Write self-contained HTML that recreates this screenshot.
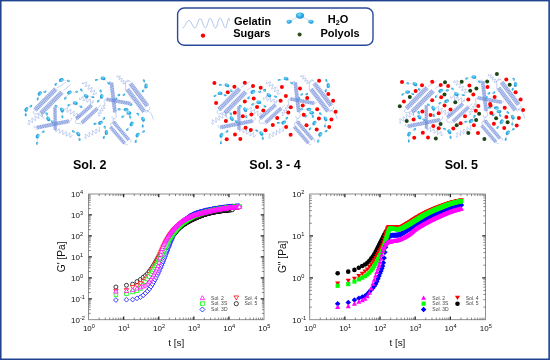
<!DOCTYPE html>
<html><head><meta charset="utf-8"><title>Gelatin rheology</title>
<style>html,body{margin:0;padding:0;background:#fff;overflow:hidden}body{width:550px;height:360px;position:relative}</style>
</head><body>
<svg width="550" height="360" viewBox="0 0 550 360" style="position:absolute;left:0;top:0">
<defs><radialGradient id="wg" cx="0.4" cy="0.35" r="0.7"><stop offset="0" stop-color="#86dcf7"/><stop offset="0.55" stop-color="#2cade5"/><stop offset="1" stop-color="#1b8fd3"/></radialGradient></defs>
<rect x="0" y="0" width="550" height="360" fill="#fff"/>
<rect x="177.6" y="8" width="195.4" height="37.2" rx="6.5" ry="6.5" fill="#fff" stroke="#2a4b9b" stroke-width="1.4"/>
<path d="M182.4 28 C184.71 28 186.69 20.4 189 20.4 C191.1 20.4 192.9 28 195 28 C196.75 28 198.25 18.6 200 18.6 C201.96 18.6 203.64 28 205.6 28 C207.14 28 208.46 18.2 210 18.2 C211.96 18.2 213.64 28 215.6 28 C217.14 28 218.46 18 220 18 C221.96 18 223.64 28 225.6 28 C226.72 28 227.68 18.2 228.8 18.2 C229.15 18.2 229.45 21 229.8 21" fill="none" stroke="#7f9ee0" stroke-width="0.6"/>
<circle cx="203" cy="35.6" r="2.2" fill="#ff0000"/>
<path d="M289.2 21.6 L300 15.6 L311 21.6" fill="none" stroke="#9fb6c8" stroke-width="0.5"/>
<ellipse cx="289.2" cy="21.7" rx="2.7" ry="2" fill="url(#wg)" transform="rotate(-8 289.2 21.7)"/>
<ellipse cx="311" cy="21.7" rx="2.7" ry="2" fill="url(#wg)" transform="rotate(8 311 21.7)"/>
<ellipse cx="300" cy="15.6" rx="4.1" ry="3.1" fill="url(#wg)" transform="rotate(0 300 15.6)"/>
<circle cx="299.6" cy="34.5" r="2" fill="#2b4f1b"/>
<g id="gel">
<line x1="35" y1="110" x2="55.8" y2="89" stroke="#6784d6" stroke-width="4.1" opacity="0.2"/>
<path d="M36.46 111.44 L34.16 107.94 L37.68 110.21 L35.38 106.7 L38.9 108.97 L36.6 105.47 L40.13 107.74 L37.83 104.23 L41.35 106.5 L39.05 103 L42.57 105.27 L40.27 101.76 L43.8 104.03 L41.5 100.53 L45.02 102.8 L42.72 99.29 L46.24 101.56 L43.94 98.06 L47.47 100.32 L45.17 96.82 L48.69 99.09 L46.39 95.59 L49.92 97.85 L47.61 94.35 L51.14 96.62 L48.84 93.12 L52.36 95.38 L50.06 91.88 L53.59 94.15 L51.28 90.65 L54.81 92.91 L52.51 89.41 L56.03 91.68 L53.73 88.18 L57.26 90.44" fill="none" stroke="#6784d6" stroke-width="0.5" stroke-linejoin="round"/>
<path d="M36.46 111.44 L57.26 90.44 M33.54 108.56 L54.34 87.56" fill="none" stroke="#6784d6" stroke-width="0.4" opacity="0.7"/>
<line x1="41.1" y1="113.2" x2="61.9" y2="92.2" stroke="#6784d6" stroke-width="4.1" opacity="0.2"/>
<path d="M42.56 114.64 L40.26 111.14 L43.78 113.41 L41.48 109.9 L45 112.17 L42.7 108.67 L46.23 110.94 L43.93 107.43 L47.45 109.7 L45.15 106.2 L48.67 108.47 L46.37 104.96 L49.9 107.23 L47.6 103.73 L51.12 106 L48.82 102.49 L52.34 104.76 L50.04 101.26 L53.57 103.52 L51.27 100.02 L54.79 102.29 L52.49 98.79 L56.02 101.05 L53.71 97.55 L57.24 99.82 L54.94 96.32 L58.46 98.58 L56.16 95.08 L59.69 97.35 L57.38 93.85 L60.91 96.11 L58.61 92.61 L62.13 94.88 L59.83 91.38 L63.36 93.64" fill="none" stroke="#6784d6" stroke-width="0.5" stroke-linejoin="round"/>
<path d="M42.56 114.64 L63.36 93.64 M39.64 111.76 L60.44 90.76" fill="none" stroke="#6784d6" stroke-width="0.4" opacity="0.7"/>
<line x1="76.25" y1="118.8" x2="91.7" y2="105.1" stroke="#6784d6" stroke-width="3.2" opacity="0.2"/>
<path d="M77.31 120 L75.83 117.03 L78.6 118.86 L77.12 115.89 L79.89 117.71 L78.41 114.75 L81.17 116.57 L79.69 113.61 L82.46 115.43 L80.98 112.47 L83.75 114.29 L82.27 111.32 L85.04 113.15 L83.56 110.18 L86.32 112.01 L84.84 109.04 L87.61 110.86 L86.13 107.9 L88.9 109.72 L87.42 106.76 L90.19 108.58 L88.71 105.62 L91.47 107.44 L89.99 104.47 L92.76 106.3" fill="none" stroke="#6784d6" stroke-width="0.5" stroke-linejoin="round"/>
<path d="M77.31 120 L92.76 106.3 M75.19 117.6 L90.64 103.9" fill="none" stroke="#6784d6" stroke-width="0.4" opacity="0.7"/>
<line x1="81.7" y1="123" x2="97.5" y2="108.4" stroke="#6784d6" stroke-width="3.2" opacity="0.2"/>
<path d="M82.79 124.18 L81.25 121.24 L84.05 123.01 L82.51 120.07 L85.31 121.84 L83.77 118.9 L86.58 120.67 L85.04 117.74 L87.84 119.5 L86.3 116.57 L89.11 118.34 L87.57 115.4 L90.37 117.17 L88.83 114.23 L91.63 116 L90.09 113.06 L92.9 114.83 L91.36 111.9 L94.16 113.66 L92.62 110.73 L95.43 112.5 L93.89 109.56 L96.69 111.33 L95.15 108.39 L97.95 110.16 L96.41 107.22" fill="none" stroke="#6784d6" stroke-width="0.5" stroke-linejoin="round"/>
<path d="M82.79 124.18 L98.59 109.58 M80.61 121.82 L96.41 107.22" fill="none" stroke="#6784d6" stroke-width="0.4" opacity="0.7"/>
<line x1="130.4" y1="83.6" x2="147.4" y2="106" stroke="#6784d6" stroke-width="3.9" opacity="0.2"/>
<path d="M128.85 84.78 L132.47 83.1 L129.88 86.14 L133.5 84.46 L130.91 87.49 L134.53 85.82 L131.94 88.85 L135.56 87.17 L132.97 90.21 L136.59 88.53 L134 91.57 L137.62 89.89 L135.03 92.92 L138.65 91.25 L136.06 94.28 L139.68 92.6 L137.09 95.64 L140.71 93.96 L138.12 97 L141.74 95.32 L139.15 98.35 L142.77 96.68 L140.18 99.71 L143.8 98.03 L141.21 101.07 L144.83 99.39 L142.24 102.43 L145.86 100.75 L143.27 103.78 L146.89 102.11 L144.3 105.14 L147.92 103.46 L145.33 106.5 L148.95 104.82" fill="none" stroke="#6784d6" stroke-width="0.5" stroke-linejoin="round"/>
<path d="M128.85 84.78 L145.85 107.18 M131.95 82.42 L148.95 104.82" fill="none" stroke="#6784d6" stroke-width="0.4" opacity="0.7"/>
<line x1="127.2" y1="89.3" x2="144.2" y2="111.7" stroke="#6784d6" stroke-width="3.9" opacity="0.2"/>
<path d="M125.65 90.48 L129.27 88.8 L126.68 91.84 L130.3 90.16 L127.71 93.19 L131.33 91.52 L128.74 94.55 L132.36 92.87 L129.77 95.91 L133.39 94.23 L130.8 97.27 L134.42 95.59 L131.83 98.62 L135.45 96.95 L132.86 99.98 L136.48 98.3 L133.89 101.34 L137.51 99.66 L134.92 102.7 L138.54 101.02 L135.95 104.05 L139.57 102.38 L136.98 105.41 L140.6 103.73 L138.01 106.77 L141.63 105.09 L139.04 108.13 L142.66 106.45 L140.07 109.48 L143.69 107.81 L141.1 110.84 L144.72 109.16 L142.13 112.2 L145.75 110.52" fill="none" stroke="#6784d6" stroke-width="0.5" stroke-linejoin="round"/>
<path d="M125.65 90.48 L142.65 112.88 M128.75 88.12 L145.75 110.52" fill="none" stroke="#6784d6" stroke-width="0.4" opacity="0.7"/>
<line x1="110.5" y1="127" x2="124.7" y2="143.5" stroke="#6784d6" stroke-width="3" opacity="0.2"/>
<path d="M109.36 127.98 L112.2 126.68 L110.5 129.3 L113.34 128 L111.64 130.62 L114.48 129.32 L112.77 131.94 L115.61 130.64 L113.91 133.26 L116.75 131.96 L115.04 134.58 L117.88 133.28 L116.18 135.9 L119.02 134.6 L117.32 137.22 L120.16 135.92 L118.45 138.54 L121.29 137.24 L119.59 139.86 L122.43 138.56 L120.72 141.18 L123.56 139.88 L121.86 142.5 L124.7 141.2 L123 143.82 L125.84 142.52" fill="none" stroke="#6784d6" stroke-width="0.5" stroke-linejoin="round"/>
<path d="M109.36 127.98 L123.56 144.48 M111.64 126.02 L125.84 142.52" fill="none" stroke="#6784d6" stroke-width="0.4" opacity="0.7"/>
<line x1="113.4" y1="122" x2="128.9" y2="140" stroke="#6784d6" stroke-width="3" opacity="0.2"/>
<path d="M112.26 122.98 L115.11 121.69 L113.41 124.31 L116.26 123.02 L114.56 125.65 L117.41 124.35 L115.71 126.98 L118.56 125.69 L116.86 128.31 L119.7 127.02 L118 129.65 L120.85 128.35 L119.15 130.98 L122 129.69 L120.3 132.31 L123.15 131.02 L121.45 133.65 L124.3 132.35 L122.6 134.98 L125.44 133.69 L123.74 136.31 L126.59 135.02 L124.89 137.65 L127.74 136.35 L126.04 138.98 L128.89 137.69 L127.19 140.31 L130.04 139.02" fill="none" stroke="#6784d6" stroke-width="0.5" stroke-linejoin="round"/>
<path d="M112.26 122.98 L127.76 140.98 M114.54 121.02 L130.04 139.02" fill="none" stroke="#6784d6" stroke-width="0.4" opacity="0.7"/>
<line x1="55" y1="106.7" x2="55.2" y2="130" stroke="#6784d6" stroke-width="2.7" opacity="0.2"/>
<path d="M53.65 106.71 L56.36 107.55 L53.66 108.44 L56.37 109.28 L53.68 110.16 L56.39 111 L53.69 111.89 L56.4 112.73 L53.71 113.62 L56.42 114.46 L53.72 115.34 L56.43 116.18 L53.74 117.07 L56.45 117.91 L53.75 118.79 L56.46 119.63 L53.77 120.52 L56.48 121.36 L53.78 122.24 L56.49 123.08 L53.8 123.97 L56.51 124.81 L53.81 125.7 L56.52 126.54 L53.83 127.42 L56.54 128.26 L53.84 129.15 L56.55 129.99" fill="none" stroke="#6784d6" stroke-width="0.5" stroke-linejoin="round"/>
<path d="M53.65 106.71 L53.85 130.01 M56.35 106.69 L56.55 129.99" fill="none" stroke="#6784d6" stroke-width="0.4" opacity="0.7"/>
<line x1="36.6" y1="127.7" x2="69" y2="121.2" stroke="#6784d6" stroke-width="3.3" opacity="0.2"/>
<path d="M36.92 129.32 L37.13 125.91 L38.63 128.98 L38.83 125.57 L40.34 128.63 L40.54 125.23 L42.04 128.29 L42.24 124.88 L43.75 127.95 L43.95 124.54 L45.45 127.61 L45.65 124.2 L47.16 127.27 L47.36 123.86 L48.86 126.92 L49.06 123.52 L50.57 126.58 L50.77 123.17 L52.27 126.24 L52.48 122.83 L53.98 125.9 L54.18 122.49 L55.68 125.55 L55.89 122.15 L57.39 125.21 L57.59 121.81 L59.09 124.87 L59.3 121.46 L60.8 124.53 L61 121.12 L62.5 124.19 L62.71 120.78 L64.21 123.84 L64.41 120.44 L65.91 123.5 L66.12 120.1 L67.62 123.16 L67.82 119.75 L69.32 122.82" fill="none" stroke="#6784d6" stroke-width="0.5" stroke-linejoin="round"/>
<path d="M36.92 129.32 L69.32 122.82 M36.28 126.08 L68.68 119.58" fill="none" stroke="#6784d6" stroke-width="0.4" opacity="0.7"/>
<line x1="111.4" y1="82.6" x2="115" y2="112.4" stroke="#6784d6" stroke-width="3.2" opacity="0.2"/>
<path d="M109.81 82.79 L113.09 83.26 L110.02 84.49 L113.3 84.96 L110.22 86.2 L113.5 86.67 L110.43 87.9 L113.71 88.37 L110.63 89.6 L113.91 90.07 L110.84 91.31 L114.12 91.77 L111.05 93.01 L114.33 93.48 L111.25 94.71 L114.53 95.18 L111.46 96.41 L114.74 96.88 L111.66 98.12 L114.94 98.59 L111.87 99.82 L115.15 100.29 L112.07 101.52 L115.35 101.99 L112.28 103.23 L115.56 103.69 L112.49 104.93 L115.77 105.4 L112.69 106.63 L115.97 107.1 L112.9 108.33 L116.18 108.8 L113.1 110.04 L116.38 110.51 L113.31 111.74 L116.59 112.21" fill="none" stroke="#6784d6" stroke-width="0.5" stroke-linejoin="round"/>
<path d="M109.81 82.79 L113.41 112.59 M112.99 82.41 L116.59 112.21" fill="none" stroke="#6784d6" stroke-width="0.4" opacity="0.7"/>
<line x1="106.4" y1="99.2" x2="130.4" y2="103.6" stroke="#6784d6" stroke-width="3.1" opacity="0.2"/>
<path d="M106.12 100.72 L107.54 97.83 L107.83 101.04 L109.25 98.15 L109.55 101.35 L110.97 98.46 L111.26 101.67 L112.68 98.78 L112.98 101.98 L114.39 99.09 L114.69 102.3 L116.11 99.4 L116.41 102.61 L117.82 99.72 L118.12 102.92 L119.54 100.03 L119.83 103.24 L121.25 100.35 L121.55 103.55 L122.97 100.66 L123.26 103.87 L124.68 100.98 L124.98 104.18 L126.39 101.29 L126.69 104.5 L128.11 101.6 L128.41 104.81 L129.82 101.92 L130.12 105.12" fill="none" stroke="#6784d6" stroke-width="0.5" stroke-linejoin="round"/>
<path d="M106.12 100.72 L130.12 105.12 M106.68 97.68 L130.68 102.08" fill="none" stroke="#6784d6" stroke-width="0.4" opacity="0.7"/>
<path d="M83.3 81.7 L82.76 82.71 L82.45 83.5 L82.53 83.89 L83.05 83.84 L83.92 83.44 L84.96 82.87 L85.93 82.37 L86.61 82.17 L86.86 82.38 L86.69 83.03 L86.21 83.98 L85.64 85.02 L85.22 85.92 L85.13 86.47 L85.48 86.59 L86.23 86.31 L87.24 85.78 L88.26 85.23 L89.07 84.89 L89.5 84.93 L89.49 85.42 L89.11 86.27 L88.55 87.3 L88.04 88.28 L87.8 88.99 L87.98 89.29 L88.58 89.15 L89.51 88.69 L90.56 88.12 L91.48 87.67 L92.07 87.55 L92.23 87.86 L91.98 88.58 L91.46 89.57 L90.9 90.6 L90.54 91.44 L90.54 91.91 L90.99 91.94 L91.81 91.59 L92.84 91.03 L93.83 90.51 L94.57 90.24 L94.91 90.37 L94.81 90.95 L94.37 91.85 L93.8 92.9 L93.33 93.84 L93.18 94.47 L93.45 94.67 L94.14 94.45 L95.11 93.95 L96.15 93.38 L97.01 92.99" fill="none" stroke="#7f98dd" stroke-width="0.5"/>
<path d="M79.6 97.6 L79.56 98.75 L79.63 99.59 L79.88 99.9 L80.32 99.63 L80.93 98.88 L81.61 97.9 L82.26 97.03 L82.77 96.55 L83.1 96.64 L83.23 97.3 L83.22 98.36 L83.17 99.55 L83.19 100.54 L83.36 101.07 L83.73 101.02 L84.29 100.42 L84.95 99.5 L85.62 98.55 L86.2 97.89 L86.6 97.75 L86.8 98.2 L86.83 99.14 L86.79 100.32 L86.77 101.42 L86.87 102.15 L87.17 102.32 L87.66 101.92 L88.29 101.09 L88.97 100.11 L89.6 99.31 L90.07 98.95 L90.34 99.18 L90.43 99.96 L90.41 101.08 L90.36 102.25 L90.41 103.15 L90.63 103.55 L91.05 103.35 L91.64 102.66 L92.31 101.7 L92.97 100.79 L93.51 100.24 L93.86 100.24" fill="none" stroke="#7f98dd" stroke-width="0.5"/>
<path d="M117.6 75.4 L117.03 76.35 L116.86 76.96 L117.27 77.05 L118.18 76.71 L119.25 76.23 L120.06 75.98 L120.33 76.2 L120.02 76.92 L119.42 77.91 L118.92 78.81 L118.88 79.29 L119.44 79.26 L120.43 78.85 L121.47 78.39 L122.16 78.24 L122.27 78.6 L121.86 79.42 L121.24 80.42 L120.83 81.23 L120.94 81.59 L121.64 81.44 L122.68 80.98 L123.67 80.57 L124.22 80.54 L124.18 81.03 L123.68 81.92 L123.08 82.91 L122.78 83.63 L123.04 83.85 L123.86 83.6 L124.92 83.12" fill="none" stroke="#7f98dd" stroke-width="0.5"/>
<path d="M27.4 123.4 L28.28 124.15 L28.98 124.62 L29.38 124.62 L29.43 124.08 L29.22 123.12 L28.88 121.98 L28.61 120.93 L28.57 120.25 L28.86 120.07 L29.48 120.41 L30.32 121.11 L31.22 121.89 L31.99 122.47 L32.49 122.63 L32.65 122.25 L32.51 121.4 L32.19 120.28 L31.88 119.18 L31.75 118.36 L31.94 118.02 L32.46 118.21 L33.25 118.82 L34.15 119.61 L34.98 120.28 L35.57 120.59 L35.84 120.38 L35.78 119.66 L35.5 118.59 L35.16 117.45 L34.96 116.52 L35.04 116.02 L35.46 116.05 L36.18 116.55 L37.07 117.31 L37.94 118.05 L38.62 118.5 L38.99 118.45 L39.03 117.88 L38.8 116.9 L38.46 115.75 L38.2 114.72 L38.18 114.07 L38.5 113.94 L39.14 114.31 L39.99 115.02 L40.89 115.8 L41.64 116.36 L42.12 116.47 L42.25 116.06 L42.09 115.18 L41.76 114.05 L41.46 112.96 L41.36 112.17" fill="none" stroke="#7f98dd" stroke-width="0.5"/>
<path d="M55.8 129.6 L55.71 130.75 L55.73 131.59 L55.97 131.91 L56.43 131.65 L57.08 130.93 L57.81 129.99 L58.5 129.15 L59.03 128.71 L59.35 128.83 L59.44 129.51 L59.37 130.58 L59.26 131.77 L59.24 132.75 L59.39 133.27 L59.78 133.2 L60.37 132.61 L61.09 131.71 L61.81 130.8 L62.41 130.2 L62.8 130.11 L62.96 130.61 L62.94 131.58 L62.83 132.77 L62.76 133.85 L62.85 134.55 L63.15 134.69 L63.68 134.26 L64.37 133.43 L65.1 132.49 L65.75 131.75 L66.22 131.47 L66.47 131.78 L66.5 132.6 L66.41 133.75 L66.31 134.9 L66.33 135.76 L66.56 136.1 L67.01 135.86 L67.66 135.14 L68.39 134.21 L69.08 133.36 L69.62 132.9 L69.94 133 L70.04 133.67 L69.98 134.73 L69.87 135.92 L69.84 136.91 L69.99 137.45 L70.37 137.4 L70.95 136.83 L71.67 135.93 L72.39 135.02" fill="none" stroke="#7f98dd" stroke-width="0.5"/>
<path d="M64 108 L63.74 109.14 L63.66 109.98 L63.85 110.32 L64.37 110.1 L65.13 109.45 L65.99 108.61 L66.79 107.89 L67.37 107.56 L67.63 107.78 L67.6 108.52 L67.37 109.62 L67.09 110.78 L66.96 111.71 L67.09 112.17 L67.53 112.07 L68.25 111.49 L69.11 110.67 L69.93 109.9 L70.57 109.47 L70.91 109.56 L70.93 110.2 L70.73 111.24 L70.45 112.41 L70.27 113.42 L70.34 113.99 L70.71 114.01 L71.38 113.53 L72.22 112.73 L73.07 111.92 L73.76 111.4 L74.16 111.37 L74.25 111.89 L74.09 112.86 L73.82 114.04 L73.6 115.1 L73.6 115.79 L73.91 115.93 L74.52 115.54 L75.33 114.79 L76.2 113.96 L76.93 113.35 L77.41 113.2 L77.56 113.61 L77.45 114.5 L77.18 115.66 L76.94 116.77 L76.88 117.56 L77.12 117.83 L77.67 117.54 L78.45 116.85 L79.32 116.01 L80.1 115.33 L80.63 115.06 L80.86 115.35 L80.8 116.15" fill="none" stroke="#7f98dd" stroke-width="0.5"/>
<path d="M98 115.6 L98.99 115.87 L99.6 115.88 L99.63 115.49 L99.15 114.76 L98.49 113.9 L98.04 113.19 L98.11 112.83 L98.76 112.86 L99.76 113.14 L100.74 113.4 L101.31 113.38 L101.3 112.97 L100.8 112.22 L100.13 111.36 L99.71 110.67 L99.82 110.34 L100.5 110.4 L101.52 110.68 L102.48 110.93 L103.02 110.89 L102.96 110.44 L102.44 109.68 L101.78 108.83 L101.39 108.15 L101.54 107.85 L102.25 107.93 L103.28 108.22 L104.22 108.46 L104.72 108.39 L104.63 107.92 L104.08 107.14 L103.43 106.29 L103.07 105.64 L103.26 105.37 L104.01 105.47 L105.04 105.76" fill="none" stroke="#7f98dd" stroke-width="0.5"/>
<path d="M84.2 137.2 L85 138.03 L85.65 138.57 L86.05 138.6 L86.16 138.08 L86.04 137.12 L85.82 135.95 L85.64 134.88 L85.67 134.18 L85.96 134.03 L86.53 134.41 L87.3 135.17 L88.12 136.03 L88.84 136.7 L89.33 136.92 L89.53 136.59 L89.48 135.75 L89.28 134.62 L89.07 133.48 L89.01 132.63 L89.21 132.28 L89.69 132.49 L90.41 133.15 L91.22 134.01 L91.99 134.78 L92.57 135.17 L92.88 135.03 L92.9 134.35 L92.74 133.29 L92.51 132.12 L92.39 131.14 L92.49 130.61 L92.88 130.63 L93.52 131.15 L94.32 131.98 L95.13 132.81 L95.78 133.36 L96.19 133.41 L96.3 132.91 L96.19 131.95 L95.97 130.78 L95.79 129.7 L95.81 129 L96.1 128.83 L96.66 129.19 L97.42 129.95 L98.24 130.81 L98.97 131.49 L99.46 131.73 L99.68 131.41 L99.63 130.58 L99.43 129.45 L99.22 128.31 L99.16 127.45 L99.35 127.09 L99.82 127.28" fill="none" stroke="#7f98dd" stroke-width="0.5"/>
<path d="M56.9 88 C60 85.5 63 85 66 82 M63.4 90.4 C66 88.5 68.5 87 70.5 84.5" fill="none" stroke="#7f98dd" stroke-width="0.45"/>
<path d="M34.6 110.2 C32.5 112 33 114.5 36 114 C39 113.5 40 112 41.2 113.2 M41.2 113.2 C43 116 42 118 44.5 119" fill="none" stroke="#7f98dd" stroke-width="0.45"/>
<path d="M42.4 113.8 C44 111.5 46.5 112.5 47 115" fill="none" stroke="#7f98dd" stroke-width="0.45"/>
<path d="M76.6 119.6 C74.5 121.5 75.5 124 78 123.6 C80 123.2 80.6 123.4 81.4 124.6 M76.6 119.6 C75 117 76.5 115 80.2 117.2" fill="none" stroke="#7f98dd" stroke-width="0.45"/>
<path d="M92.2 103.6 C93.6 102 93.4 101 93.2 102.2 M97.9 108.2 C99 107 100 106.5 101 105" fill="none" stroke="#7f98dd" stroke-width="0.45"/>
<path d="M130 81.6 C128.5 79.5 126.5 80 125.6 82 C125 84 126 86 125.4 90.2 M124.6 83.4 C127 82 129 80 130 81.6" fill="none" stroke="#7f98dd" stroke-width="0.45"/>
<path d="M149.4 107 C150.6 109 149 111 146.6 110.4 M146.6 110.4 C150.5 111.5 152.5 115 153.4 119.6 M145 111.6 C146 112.6 147.4 112.2 147.6 111" fill="none" stroke="#7f98dd" stroke-width="0.45"/>
<path d="M111.6 127 C110 124.6 111 122 113.6 121.8 C115.4 121.6 116 121.6 116.6 122.6" fill="none" stroke="#7f98dd" stroke-width="0.45"/>
<path d="M115 112.4 C116.6 114.4 117 117.4 115 118.4 C113 119.4 111.4 118 112.2 116.2 M113.6 121.8 C112.6 120.4 113 119 115 118.4" fill="none" stroke="#7f98dd" stroke-width="0.45"/>
<path d="M124.6 143.6 C125.6 145 127 145.4 127.6 144.6 M130.6 139.4 C131.6 140.8 131.4 142 130.4 142.4" fill="none" stroke="#7f98dd" stroke-width="0.45"/>
<path d="M55.5 130.6 L55.8 129.6 M69 121.4 C71 121 72 119 71 117.6 M36.6 127.4 C34.6 128 33.6 127 34.4 125.4" fill="none" stroke="#7f98dd" stroke-width="0.45"/>
<path d="M106.4 99.2 C104.4 99 103.6 101 104.8 102.6 L104.8 105.6 M130.4 103.6 C132 104 132.6 103 132 102" fill="none" stroke="#7f98dd" stroke-width="0.45"/>
<path d="M111.4 82.6 C110.6 80.6 108.6 81.6 108.8 83.2" fill="none" stroke="#7f98dd" stroke-width="0.45"/>
</g>
<line x1="61.3" y1="80" x2="68.3" y2="80.8" stroke="#c9c6ae" stroke-width="0.4"/>
<line x1="61.3" y1="80" x2="55.8" y2="84.4" stroke="#c9c6ae" stroke-width="0.4"/>
<ellipse cx="68.3" cy="80.8" rx="1.5" ry="1.05" fill="url(#wg)" transform="rotate(6.52 68.3 80.8)"/>
<ellipse cx="55.8" cy="84.4" rx="1.5" ry="1.05" fill="url(#wg)" transform="rotate(141.34 55.8 84.4)"/>
<ellipse cx="61.3" cy="80" rx="2.5" ry="1.75" fill="url(#wg)" transform="rotate(163.93 61.3 80)"/>
<line x1="69.4" y1="92.5" x2="76.7" y2="91.7" stroke="#c9c6ae" stroke-width="0.4"/>
<line x1="69.4" y1="92.5" x2="65.3" y2="98.3" stroke="#c9c6ae" stroke-width="0.4"/>
<ellipse cx="76.7" cy="91.7" rx="1.5" ry="1.05" fill="url(#wg)" transform="rotate(-6.25 76.7 91.7)"/>
<ellipse cx="65.3" cy="98.3" rx="1.5" ry="1.05" fill="url(#wg)" transform="rotate(125.26 65.3 98.3)"/>
<ellipse cx="69.4" cy="92.5" rx="2.5" ry="1.75" fill="url(#wg)" transform="rotate(149.93 69.4 92.5)"/>
<line x1="39.8" y1="93.5" x2="45" y2="91.7" stroke="#c9c6ae" stroke-width="0.4"/>
<line x1="39.8" y1="93.5" x2="37.8" y2="98.9" stroke="#c9c6ae" stroke-width="0.4"/>
<ellipse cx="45" cy="91.7" rx="1.5" ry="1.05" fill="url(#wg)" transform="rotate(-19.09 45 91.7)"/>
<ellipse cx="37.8" cy="98.9" rx="1.5" ry="1.05" fill="url(#wg)" transform="rotate(110.32 37.8 98.9)"/>
<ellipse cx="39.8" cy="93.5" rx="2.5" ry="1.75" fill="url(#wg)" transform="rotate(135 39.8 93.5)"/>
<line x1="75.3" y1="103.1" x2="68.9" y2="105.3" stroke="#c9c6ae" stroke-width="0.4"/>
<line x1="75.3" y1="103.1" x2="81" y2="106.7" stroke="#c9c6ae" stroke-width="0.4"/>
<ellipse cx="68.9" cy="105.3" rx="1.5" ry="1.05" fill="url(#wg)" transform="rotate(161.03 68.9 105.3)"/>
<ellipse cx="81" cy="106.7" rx="1.5" ry="1.05" fill="url(#wg)" transform="rotate(32.28 81 106.7)"/>
<ellipse cx="75.3" cy="103.1" rx="2.5" ry="1.75" fill="url(#wg)" transform="rotate(6.6 75.3 103.1)"/>
<line x1="26.4" y1="109.4" x2="30.9" y2="106.1" stroke="#c9c6ae" stroke-width="0.4"/>
<line x1="26.4" y1="109.4" x2="25.8" y2="114.8" stroke="#c9c6ae" stroke-width="0.4"/>
<ellipse cx="30.9" cy="106.1" rx="1.5" ry="1.05" fill="url(#wg)" transform="rotate(-36.25 30.9 106.1)"/>
<ellipse cx="25.8" cy="114.8" rx="1.5" ry="1.05" fill="url(#wg)" transform="rotate(96.34 25.8 114.8)"/>
<ellipse cx="26.4" cy="109.4" rx="2.5" ry="1.75" fill="url(#wg)" transform="rotate(120.38 26.4 109.4)"/>
<line x1="62" y1="110" x2="56.1" y2="106" stroke="#c9c6ae" stroke-width="0.4"/>
<line x1="62" y1="110" x2="62.4" y2="116.7" stroke="#c9c6ae" stroke-width="0.4"/>
<ellipse cx="56.1" cy="106" rx="1.5" ry="1.05" fill="url(#wg)" transform="rotate(-145.86 56.1 106)"/>
<ellipse cx="62.4" cy="116.7" rx="1.5" ry="1.05" fill="url(#wg)" transform="rotate(86.58 62.4 116.7)"/>
<ellipse cx="62" cy="110" rx="2.5" ry="1.75" fill="url(#wg)" transform="rotate(59.51 62 110)"/>
<line x1="48.3" y1="118.9" x2="46.7" y2="113.9" stroke="#c9c6ae" stroke-width="0.4"/>
<line x1="48.3" y1="118.9" x2="52.2" y2="121.7" stroke="#c9c6ae" stroke-width="0.4"/>
<ellipse cx="46.7" cy="113.9" rx="1.5" ry="1.05" fill="url(#wg)" transform="rotate(-107.74 46.7 113.9)"/>
<ellipse cx="52.2" cy="121.7" rx="1.5" ry="1.05" fill="url(#wg)" transform="rotate(35.68 52.2 121.7)"/>
<ellipse cx="48.3" cy="118.9" rx="2.5" ry="1.75" fill="url(#wg)" transform="rotate(54.81 48.3 118.9)"/>
<line x1="37.6" y1="136.1" x2="43.3" y2="131.7" stroke="#c9c6ae" stroke-width="0.4"/>
<line x1="37.6" y1="136.1" x2="37.2" y2="143.3" stroke="#c9c6ae" stroke-width="0.4"/>
<ellipse cx="43.3" cy="131.7" rx="1.5" ry="1.05" fill="url(#wg)" transform="rotate(-37.67 43.3 131.7)"/>
<ellipse cx="37.2" cy="143.3" rx="1.5" ry="1.05" fill="url(#wg)" transform="rotate(93.18 37.2 143.3)"/>
<ellipse cx="37.6" cy="136.1" rx="2.5" ry="1.75" fill="url(#wg)" transform="rotate(117.74 37.6 136.1)"/>
<line x1="78.3" y1="134" x2="73.3" y2="131.4" stroke="#c9c6ae" stroke-width="0.4"/>
<line x1="78.3" y1="134" x2="79.6" y2="139.4" stroke="#c9c6ae" stroke-width="0.4"/>
<ellipse cx="73.3" cy="131.4" rx="1.5" ry="1.05" fill="url(#wg)" transform="rotate(-152.53 73.3 131.4)"/>
<ellipse cx="79.6" cy="139.4" rx="1.5" ry="1.05" fill="url(#wg)" transform="rotate(76.46 79.6 139.4)"/>
<ellipse cx="78.3" cy="134" rx="2.5" ry="1.75" fill="url(#wg)" transform="rotate(51.78 78.3 134)"/>
<line x1="103.1" y1="78.3" x2="96.4" y2="80" stroke="#c9c6ae" stroke-width="0.4"/>
<line x1="103.1" y1="78.3" x2="108.7" y2="83.1" stroke="#c9c6ae" stroke-width="0.4"/>
<ellipse cx="96.4" cy="80" rx="1.5" ry="1.05" fill="url(#wg)" transform="rotate(165.76 96.4 80)"/>
<ellipse cx="108.7" cy="83.1" rx="1.5" ry="1.05" fill="url(#wg)" transform="rotate(40.6 108.7 83.1)"/>
<ellipse cx="103.1" cy="78.3" rx="2.5" ry="1.75" fill="url(#wg)" transform="rotate(14.15 103.1 78.3)"/>
<line x1="86.1" y1="96.1" x2="81.3" y2="90" stroke="#c9c6ae" stroke-width="0.4"/>
<line x1="86.1" y1="96.1" x2="92.8" y2="97" stroke="#c9c6ae" stroke-width="0.4"/>
<ellipse cx="81.3" cy="90" rx="1.5" ry="1.05" fill="url(#wg)" transform="rotate(-128.2 81.3 90)"/>
<ellipse cx="92.8" cy="97" rx="1.5" ry="1.05" fill="url(#wg)" transform="rotate(7.65 92.8 97)"/>
<ellipse cx="86.1" cy="96.1" rx="2.5" ry="1.75" fill="url(#wg)" transform="rotate(31.33 86.1 96.1)"/>
<line x1="101.7" y1="96.4" x2="100.6" y2="91.1" stroke="#c9c6ae" stroke-width="0.4"/>
<line x1="101.7" y1="96.4" x2="98.3" y2="101.1" stroke="#c9c6ae" stroke-width="0.4"/>
<ellipse cx="100.6" cy="91.1" rx="1.5" ry="1.05" fill="url(#wg)" transform="rotate(-101.73 100.6 91.1)"/>
<ellipse cx="98.3" cy="101.1" rx="1.5" ry="1.05" fill="url(#wg)" transform="rotate(125.88 98.3 101.1)"/>
<ellipse cx="101.7" cy="96.4" rx="2.5" ry="1.75" fill="url(#wg)" transform="rotate(102.95 101.7 96.4)"/>
<ellipse cx="118.9" cy="95" rx="1.5" ry="1.05" fill="url(#wg)" transform="rotate(-30 118.9 95)"/>
<ellipse cx="123.9" cy="94.7" rx="1.5" ry="1.05" fill="url(#wg)" transform="rotate(-30 123.9 94.7)"/>
<ellipse cx="116" cy="98.7" rx="1.5" ry="1.05" fill="url(#wg)" transform="rotate(-30 116 98.7)"/>
<ellipse cx="131" cy="104.7" rx="1.5" ry="1.05" fill="url(#wg)" transform="rotate(-30 131 104.7)"/>
<line x1="146.1" y1="86.1" x2="143.9" y2="80.8" stroke="#c9c6ae" stroke-width="0.4"/>
<line x1="146.1" y1="86.1" x2="143.1" y2="90.9" stroke="#c9c6ae" stroke-width="0.4"/>
<ellipse cx="143.9" cy="80.8" rx="1.5" ry="1.05" fill="url(#wg)" transform="rotate(-112.54 143.9 80.8)"/>
<ellipse cx="143.1" cy="90.9" rx="1.5" ry="1.05" fill="url(#wg)" transform="rotate(122.01 143.1 90.9)"/>
<ellipse cx="146.1" cy="86.1" rx="2.5" ry="1.75" fill="url(#wg)" transform="rotate(94.53 146.1 86.1)"/>
<line x1="100.5" y1="122.8" x2="103.9" y2="118.3" stroke="#c9c6ae" stroke-width="0.4"/>
<line x1="100.5" y1="122.8" x2="95" y2="123.9" stroke="#c9c6ae" stroke-width="0.4"/>
<ellipse cx="103.9" cy="118.3" rx="1.5" ry="1.05" fill="url(#wg)" transform="rotate(-52.93 103.9 118.3)"/>
<ellipse cx="95" cy="123.9" rx="1.5" ry="1.05" fill="url(#wg)" transform="rotate(168.69 95 123.9)"/>
<ellipse cx="100.5" cy="122.8" rx="2.5" ry="1.75" fill="url(#wg)" transform="rotate(147.82 100.5 122.8)"/>
<line x1="106.4" y1="132.5" x2="104.7" y2="127.2" stroke="#c9c6ae" stroke-width="0.4"/>
<line x1="106.4" y1="132.5" x2="103.9" y2="137.4" stroke="#c9c6ae" stroke-width="0.4"/>
<ellipse cx="104.7" cy="127.2" rx="1.5" ry="1.05" fill="url(#wg)" transform="rotate(-107.78 104.7 127.2)"/>
<ellipse cx="103.9" cy="137.4" rx="1.5" ry="1.05" fill="url(#wg)" transform="rotate(117.03 103.9 137.4)"/>
<ellipse cx="106.4" cy="132.5" rx="2.5" ry="1.75" fill="url(#wg)" transform="rotate(94.48 106.4 132.5)"/>
<line x1="126.1" y1="109.7" x2="119.1" y2="109.4" stroke="#c9c6ae" stroke-width="0.4"/>
<ellipse cx="119.1" cy="109.4" rx="1.5" ry="1.05" fill="url(#wg)" transform="rotate(-177.55 119.1 109.4)"/>
<ellipse cx="126.1" cy="109.7" rx="2.5" ry="1.75" fill="url(#wg)" transform="rotate(-177.55 126.1 109.7)"/>
<line x1="128.9" y1="113.1" x2="122.8" y2="116.7" stroke="#c9c6ae" stroke-width="0.4"/>
<line x1="128.9" y1="113.1" x2="130.2" y2="117" stroke="#c9c6ae" stroke-width="0.4"/>
<ellipse cx="122.8" cy="116.7" rx="1.5" ry="1.05" fill="url(#wg)" transform="rotate(149.45 122.8 116.7)"/>
<ellipse cx="130.2" cy="117" rx="1.5" ry="1.05" fill="url(#wg)" transform="rotate(71.57 130.2 117)"/>
<ellipse cx="128.9" cy="113.1" rx="2.5" ry="1.75" fill="url(#wg)" transform="rotate(2.32 128.9 113.1)"/>
<line x1="131.7" y1="123.9" x2="127.4" y2="129.6" stroke="#c9c6ae" stroke-width="0.4"/>
<ellipse cx="127.4" cy="129.6" rx="1.5" ry="1.05" fill="url(#wg)" transform="rotate(127.03 127.4 129.6)"/>
<ellipse cx="131.7" cy="123.9" rx="2.5" ry="1.75" fill="url(#wg)" transform="rotate(127.03 131.7 123.9)"/>
<line x1="143.1" y1="119.2" x2="137.8" y2="114.1" stroke="#c9c6ae" stroke-width="0.4"/>
<line x1="143.1" y1="119.2" x2="142.8" y2="126.1" stroke="#c9c6ae" stroke-width="0.4"/>
<ellipse cx="137.8" cy="114.1" rx="1.5" ry="1.05" fill="url(#wg)" transform="rotate(-136.1 137.8 114.1)"/>
<ellipse cx="142.8" cy="126.1" rx="1.5" ry="1.05" fill="url(#wg)" transform="rotate(92.49 142.8 126.1)"/>
<ellipse cx="143.1" cy="119.2" rx="2.5" ry="1.75" fill="url(#wg)" transform="rotate(67.38 143.1 119.2)"/>
<line x1="137.6" y1="135" x2="143.6" y2="131.4" stroke="#c9c6ae" stroke-width="0.4"/>
<line x1="137.6" y1="135" x2="135.8" y2="141.4" stroke="#c9c6ae" stroke-width="0.4"/>
<ellipse cx="143.6" cy="131.4" rx="1.5" ry="1.05" fill="url(#wg)" transform="rotate(-30.96 143.6 131.4)"/>
<ellipse cx="135.8" cy="141.4" rx="1.5" ry="1.05" fill="url(#wg)" transform="rotate(105.71 135.8 141.4)"/>
<ellipse cx="137.6" cy="135" rx="2.5" ry="1.75" fill="url(#wg)" transform="rotate(127.95 137.6 135)"/>
<use href="#gel" x="183.8" y="-0.3"/>
<line x1="227" y1="85.2" x2="220.3" y2="85" stroke="#c9c6ae" stroke-width="0.4"/>
<line x1="227" y1="85.2" x2="231.4" y2="90.8" stroke="#c9c6ae" stroke-width="0.4"/>
<ellipse cx="220.3" cy="85" rx="1.5" ry="1.05" fill="url(#wg)" transform="rotate(-178.29 220.3 85)"/>
<ellipse cx="231.4" cy="90.8" rx="1.5" ry="1.05" fill="url(#wg)" transform="rotate(51.84 231.4 90.8)"/>
<ellipse cx="227" cy="85.2" rx="2.5" ry="1.75" fill="url(#wg)" transform="rotate(27.59 227 85.2)"/>
<line x1="220" y1="93.3" x2="215" y2="95.9" stroke="#c9c6ae" stroke-width="0.4"/>
<line x1="220" y1="93.3" x2="225.2" y2="95.2" stroke="#c9c6ae" stroke-width="0.4"/>
<ellipse cx="215" cy="95.9" rx="1.5" ry="1.05" fill="url(#wg)" transform="rotate(152.53 215 95.9)"/>
<ellipse cx="225.2" cy="95.2" rx="1.5" ry="1.05" fill="url(#wg)" transform="rotate(20.07 225.2 95.2)"/>
<ellipse cx="220" cy="93.3" rx="2.5" ry="1.75" fill="url(#wg)" transform="rotate(-3.93 220 93.3)"/>
<line x1="252.8" y1="91.9" x2="259.7" y2="91.7" stroke="#c9c6ae" stroke-width="0.4"/>
<line x1="252.8" y1="91.9" x2="248.6" y2="97.8" stroke="#c9c6ae" stroke-width="0.4"/>
<ellipse cx="259.7" cy="91.7" rx="1.5" ry="1.05" fill="url(#wg)" transform="rotate(-1.66 259.7 91.7)"/>
<ellipse cx="248.6" cy="97.8" rx="1.5" ry="1.05" fill="url(#wg)" transform="rotate(125.45 248.6 97.8)"/>
<ellipse cx="252.8" cy="91.9" rx="2.5" ry="1.75" fill="url(#wg)" transform="rotate(151.21 252.8 91.9)"/>
<line x1="258.8" y1="102.3" x2="252.8" y2="104.4" stroke="#c9c6ae" stroke-width="0.4"/>
<line x1="258.8" y1="102.3" x2="265" y2="106.3" stroke="#c9c6ae" stroke-width="0.4"/>
<ellipse cx="252.8" cy="104.4" rx="1.5" ry="1.05" fill="url(#wg)" transform="rotate(160.71 252.8 104.4)"/>
<ellipse cx="265" cy="106.3" rx="1.5" ry="1.05" fill="url(#wg)" transform="rotate(32.83 265 106.3)"/>
<ellipse cx="258.8" cy="102.3" rx="2.5" ry="1.75" fill="url(#wg)" transform="rotate(8.85 258.8 102.3)"/>
<ellipse cx="264.6" cy="90" rx="1.5" ry="1.05" fill="url(#wg)" transform="rotate(-30 264.6 90)"/>
<line x1="286.1" y1="78.6" x2="279.2" y2="80" stroke="#c9c6ae" stroke-width="0.4"/>
<line x1="286.1" y1="78.6" x2="291.7" y2="83" stroke="#c9c6ae" stroke-width="0.4"/>
<ellipse cx="279.2" cy="80" rx="1.5" ry="1.05" fill="url(#wg)" transform="rotate(168.53 279.2 80)"/>
<ellipse cx="291.7" cy="83" rx="1.5" ry="1.05" fill="url(#wg)" transform="rotate(38.16 291.7 83)"/>
<ellipse cx="286.1" cy="78.6" rx="2.5" ry="1.75" fill="url(#wg)" transform="rotate(13.5 286.1 78.6)"/>
<line x1="268.9" y1="95.2" x2="264.8" y2="90.3" stroke="#c9c6ae" stroke-width="0.4"/>
<line x1="268.9" y1="95.2" x2="275.6" y2="96.7" stroke="#c9c6ae" stroke-width="0.4"/>
<ellipse cx="264.8" cy="90.3" rx="1.5" ry="1.05" fill="url(#wg)" transform="rotate(-129.92 264.8 90.3)"/>
<ellipse cx="275.6" cy="96.7" rx="1.5" ry="1.05" fill="url(#wg)" transform="rotate(12.62 275.6 96.7)"/>
<ellipse cx="268.9" cy="95.2" rx="2.5" ry="1.75" fill="url(#wg)" transform="rotate(30.65 268.9 95.2)"/>
<ellipse cx="301.7" cy="94.4" rx="1.5" ry="1.05" fill="url(#wg)" transform="rotate(-30 301.7 94.4)"/>
<ellipse cx="306.7" cy="94.1" rx="1.5" ry="1.05" fill="url(#wg)" transform="rotate(-30 306.7 94.1)"/>
<ellipse cx="298.9" cy="98.3" rx="1.5" ry="1.05" fill="url(#wg)" transform="rotate(-30 298.9 98.3)"/>
<line x1="328.3" y1="85.6" x2="326.3" y2="80.6" stroke="#c9c6ae" stroke-width="0.4"/>
<line x1="328.3" y1="85.6" x2="325.8" y2="90.8" stroke="#c9c6ae" stroke-width="0.4"/>
<ellipse cx="326.3" cy="80.6" rx="1.5" ry="1.05" fill="url(#wg)" transform="rotate(-111.8 326.3 80.6)"/>
<ellipse cx="325.8" cy="90.8" rx="1.5" ry="1.05" fill="url(#wg)" transform="rotate(115.68 325.8 90.8)"/>
<ellipse cx="328.3" cy="85.6" rx="2.5" ry="1.75" fill="url(#wg)" transform="rotate(92.81 328.3 85.6)"/>
<line x1="245.2" y1="109.7" x2="240.3" y2="106.1" stroke="#c9c6ae" stroke-width="0.4"/>
<line x1="245.2" y1="109.7" x2="246.3" y2="116.7" stroke="#c9c6ae" stroke-width="0.4"/>
<ellipse cx="240.3" cy="106.1" rx="1.5" ry="1.05" fill="url(#wg)" transform="rotate(-143.7 240.3 106.1)"/>
<ellipse cx="246.3" cy="116.7" rx="1.5" ry="1.05" fill="url(#wg)" transform="rotate(81.07 246.3 116.7)"/>
<ellipse cx="245.2" cy="109.7" rx="2.5" ry="1.75" fill="url(#wg)" transform="rotate(60.49 245.2 109.7)"/>
<line x1="231.7" y1="118.6" x2="230.8" y2="113.9" stroke="#c9c6ae" stroke-width="0.4"/>
<line x1="231.7" y1="118.6" x2="236.1" y2="121.4" stroke="#c9c6ae" stroke-width="0.4"/>
<ellipse cx="230.8" cy="113.9" rx="1.5" ry="1.05" fill="url(#wg)" transform="rotate(-100.84 230.8 113.9)"/>
<ellipse cx="236.1" cy="121.4" rx="1.5" ry="1.05" fill="url(#wg)" transform="rotate(32.47 236.1 121.4)"/>
<ellipse cx="231.7" cy="118.6" rx="2.5" ry="1.75" fill="url(#wg)" transform="rotate(54.75 231.7 118.6)"/>
<line x1="221.4" y1="135.2" x2="227" y2="131.4" stroke="#c9c6ae" stroke-width="0.4"/>
<line x1="221.4" y1="135.2" x2="221.1" y2="142.8" stroke="#c9c6ae" stroke-width="0.4"/>
<ellipse cx="227" cy="131.4" rx="1.5" ry="1.05" fill="url(#wg)" transform="rotate(-34.16 227 131.4)"/>
<ellipse cx="221.1" cy="142.8" rx="1.5" ry="1.05" fill="url(#wg)" transform="rotate(92.26 221.1 142.8)"/>
<ellipse cx="221.4" cy="135.2" rx="2.5" ry="1.75" fill="url(#wg)" transform="rotate(117.36 221.4 135.2)"/>
<line x1="261.4" y1="133.5" x2="256.7" y2="130.7" stroke="#c9c6ae" stroke-width="0.4"/>
<line x1="261.4" y1="133.5" x2="262.8" y2="138.3" stroke="#c9c6ae" stroke-width="0.4"/>
<ellipse cx="256.7" cy="130.7" rx="1.5" ry="1.05" fill="url(#wg)" transform="rotate(-149.22 256.7 130.7)"/>
<ellipse cx="262.8" cy="138.3" rx="1.5" ry="1.05" fill="url(#wg)" transform="rotate(73.74 262.8 138.3)"/>
<ellipse cx="261.4" cy="133.5" rx="2.5" ry="1.75" fill="url(#wg)" transform="rotate(51.25 261.4 133.5)"/>
<line x1="283.7" y1="122.6" x2="286.7" y2="118.1" stroke="#c9c6ae" stroke-width="0.4"/>
<line x1="283.7" y1="122.6" x2="278.3" y2="123" stroke="#c9c6ae" stroke-width="0.4"/>
<ellipse cx="286.7" cy="118.1" rx="1.5" ry="1.05" fill="url(#wg)" transform="rotate(-56.31 286.7 118.1)"/>
<ellipse cx="278.3" cy="123" rx="1.5" ry="1.05" fill="url(#wg)" transform="rotate(175.76 278.3 123)"/>
<ellipse cx="283.7" cy="122.6" rx="2.5" ry="1.75" fill="url(#wg)" transform="rotate(149.74 283.7 122.6)"/>
<line x1="308.9" y1="109.4" x2="301.7" y2="109.2" stroke="#c9c6ae" stroke-width="0.4"/>
<ellipse cx="301.7" cy="109.2" rx="1.5" ry="1.05" fill="url(#wg)" transform="rotate(-178.41 301.7 109.2)"/>
<ellipse cx="308.9" cy="109.4" rx="2.5" ry="1.75" fill="url(#wg)" transform="rotate(-178.41 308.9 109.4)"/>
<line x1="311.7" y1="112.8" x2="305.8" y2="116.3" stroke="#c9c6ae" stroke-width="0.4"/>
<line x1="311.7" y1="112.8" x2="312.8" y2="116.3" stroke="#c9c6ae" stroke-width="0.4"/>
<ellipse cx="305.8" cy="116.3" rx="1.5" ry="1.05" fill="url(#wg)" transform="rotate(149.32 305.8 116.3)"/>
<ellipse cx="312.8" cy="116.3" rx="1.5" ry="1.05" fill="url(#wg)" transform="rotate(72.55 312.8 116.3)"/>
<ellipse cx="311.7" cy="112.8" rx="2.5" ry="1.75" fill="url(#wg)" transform="rotate(0 311.7 112.8)"/>
<line x1="314.4" y1="123" x2="310" y2="128.9" stroke="#c9c6ae" stroke-width="0.4"/>
<ellipse cx="310" cy="128.9" rx="1.5" ry="1.05" fill="url(#wg)" transform="rotate(126.71 310 128.9)"/>
<ellipse cx="314.4" cy="123" rx="2.5" ry="1.75" fill="url(#wg)" transform="rotate(126.71 314.4 123)"/>
<line x1="325.6" y1="118.9" x2="320.3" y2="113.7" stroke="#c9c6ae" stroke-width="0.4"/>
<line x1="325.6" y1="118.9" x2="325.2" y2="125.9" stroke="#c9c6ae" stroke-width="0.4"/>
<ellipse cx="320.3" cy="113.7" rx="1.5" ry="1.05" fill="url(#wg)" transform="rotate(-135.55 320.3 113.7)"/>
<ellipse cx="325.2" cy="125.9" rx="1.5" ry="1.05" fill="url(#wg)" transform="rotate(93.27 325.2 125.9)"/>
<ellipse cx="325.6" cy="118.9" rx="2.5" ry="1.75" fill="url(#wg)" transform="rotate(68.12 325.6 118.9)"/>
<line x1="320.3" y1="134.4" x2="326.1" y2="131.1" stroke="#c9c6ae" stroke-width="0.4"/>
<line x1="320.3" y1="134.4" x2="318.3" y2="141.1" stroke="#c9c6ae" stroke-width="0.4"/>
<ellipse cx="326.1" cy="131.1" rx="1.5" ry="1.05" fill="url(#wg)" transform="rotate(-29.64 326.1 131.1)"/>
<ellipse cx="318.3" cy="141.1" rx="1.5" ry="1.05" fill="url(#wg)" transform="rotate(106.62 318.3 141.1)"/>
<ellipse cx="320.3" cy="134.4" rx="2.5" ry="1.75" fill="url(#wg)" transform="rotate(127.95 320.3 134.4)"/>
<circle cx="214.4" cy="83" r="2" fill="#ff0000"/>
<circle cx="234.4" cy="86.7" r="2" fill="#ff0000"/>
<circle cx="227.8" cy="92.2" r="2" fill="#ff0000"/>
<circle cx="244.8" cy="82.8" r="2" fill="#ff0000"/>
<circle cx="253" cy="86.1" r="2" fill="#ff0000"/>
<circle cx="260.7" cy="87.8" r="2" fill="#ff0000"/>
<circle cx="253.7" cy="98.6" r="2" fill="#ff0000"/>
<circle cx="244.8" cy="101.4" r="2" fill="#ff0000"/>
<circle cx="216.1" cy="103" r="2" fill="#ff0000"/>
<circle cx="281.9" cy="87" r="2" fill="#ff0000"/>
<circle cx="285.9" cy="95.9" r="2" fill="#ff0000"/>
<circle cx="280.6" cy="100.8" r="2" fill="#ff0000"/>
<circle cx="300" cy="88.6" r="2" fill="#ff0000"/>
<circle cx="307.2" cy="98.1" r="2" fill="#ff0000"/>
<circle cx="302.7" cy="105.6" r="2" fill="#ff0000"/>
<circle cx="319.1" cy="80.8" r="2" fill="#ff0000"/>
<circle cx="328.3" cy="93.9" r="2" fill="#ff0000"/>
<circle cx="333.1" cy="100.8" r="2" fill="#ff0000"/>
<circle cx="234.8" cy="112.8" r="2" fill="#ff0000"/>
<circle cx="242.8" cy="116.3" r="2" fill="#ff0000"/>
<circle cx="251.4" cy="114.4" r="2" fill="#ff0000"/>
<circle cx="257" cy="107" r="2" fill="#ff0000"/>
<circle cx="263.3" cy="110.6" r="2" fill="#ff0000"/>
<circle cx="225.9" cy="121.1" r="2" fill="#ff0000"/>
<circle cx="245.6" cy="127.8" r="2" fill="#ff0000"/>
<circle cx="250.8" cy="130" r="2" fill="#ff0000"/>
<circle cx="235" cy="134.4" r="2" fill="#ff0000"/>
<circle cx="226.7" cy="139.2" r="2" fill="#ff0000"/>
<circle cx="240.3" cy="138.9" r="2" fill="#ff0000"/>
<circle cx="265.5" cy="130.3" r="2" fill="#ff0000"/>
<circle cx="277.2" cy="118.1" r="2" fill="#ff0000"/>
<circle cx="288.3" cy="112.6" r="2" fill="#ff0000"/>
<circle cx="290.8" cy="107.2" r="2" fill="#ff0000"/>
<circle cx="272.8" cy="125" r="2" fill="#ff0000"/>
<circle cx="286.1" cy="127" r="2" fill="#ff0000"/>
<circle cx="290.6" cy="134.8" r="2" fill="#ff0000"/>
<circle cx="303.7" cy="114.8" r="2" fill="#ff0000"/>
<circle cx="306.5" cy="125.2" r="2" fill="#ff0000"/>
<circle cx="317.2" cy="109.2" r="2" fill="#ff0000"/>
<circle cx="318.9" cy="118.6" r="2" fill="#ff0000"/>
<circle cx="316.7" cy="129.4" r="2" fill="#ff0000"/>
<circle cx="335.6" cy="111.7" r="2" fill="#ff0000"/>
<circle cx="331.4" cy="119.4" r="2" fill="#ff0000"/>
<circle cx="329.2" cy="127" r="2" fill="#ff0000"/>
<use href="#gel" x="371.2" y="-1.4"/>
<line x1="415" y1="84.1" x2="407.8" y2="83.3" stroke="#c9c6ae" stroke-width="0.4"/>
<line x1="415" y1="84.1" x2="419.1" y2="89.4" stroke="#c9c6ae" stroke-width="0.4"/>
<ellipse cx="407.8" cy="83.3" rx="1.5" ry="1.05" fill="url(#wg)" transform="rotate(-173.66 407.8 83.3)"/>
<ellipse cx="419.1" cy="89.4" rx="1.5" ry="1.05" fill="url(#wg)" transform="rotate(52.28 419.1 89.4)"/>
<ellipse cx="415" cy="84.1" rx="2.5" ry="1.75" fill="url(#wg)" transform="rotate(28.36 415 84.1)"/>
<line x1="407.6" y1="91.9" x2="402.8" y2="94.4" stroke="#c9c6ae" stroke-width="0.4"/>
<line x1="407.6" y1="91.9" x2="412.8" y2="93.9" stroke="#c9c6ae" stroke-width="0.4"/>
<ellipse cx="402.8" cy="94.4" rx="1.5" ry="1.05" fill="url(#wg)" transform="rotate(152.49 402.8 94.4)"/>
<ellipse cx="412.8" cy="93.9" rx="1.5" ry="1.05" fill="url(#wg)" transform="rotate(21.04 412.8 93.9)"/>
<ellipse cx="407.6" cy="91.9" rx="2.5" ry="1.75" fill="url(#wg)" transform="rotate(-2.86 407.6 91.9)"/>
<line x1="440.7" y1="90.8" x2="447.4" y2="90.4" stroke="#c9c6ae" stroke-width="0.4"/>
<line x1="440.7" y1="90.8" x2="436.1" y2="96.7" stroke="#c9c6ae" stroke-width="0.4"/>
<ellipse cx="447.4" cy="90.4" rx="1.5" ry="1.05" fill="url(#wg)" transform="rotate(-3.42 447.4 90.4)"/>
<ellipse cx="436.1" cy="96.7" rx="1.5" ry="1.05" fill="url(#wg)" transform="rotate(127.94 436.1 96.7)"/>
<ellipse cx="440.7" cy="90.8" rx="2.5" ry="1.75" fill="url(#wg)" transform="rotate(150.86 440.7 90.8)"/>
<line x1="446.6" y1="101.1" x2="440" y2="103.3" stroke="#c9c6ae" stroke-width="0.4"/>
<ellipse cx="440" cy="103.3" rx="1.5" ry="1.05" fill="url(#wg)" transform="rotate(161.57 440 103.3)"/>
<ellipse cx="446.6" cy="101.1" rx="2.5" ry="1.75" fill="url(#wg)" transform="rotate(161.57 446.6 101.1)"/>
<line x1="473.9" y1="77" x2="466.7" y2="78.6" stroke="#c9c6ae" stroke-width="0.4"/>
<line x1="473.9" y1="77" x2="479.4" y2="81.7" stroke="#c9c6ae" stroke-width="0.4"/>
<ellipse cx="466.7" cy="78.6" rx="1.5" ry="1.05" fill="url(#wg)" transform="rotate(167.47 466.7 78.6)"/>
<ellipse cx="479.4" cy="81.7" rx="1.5" ry="1.05" fill="url(#wg)" transform="rotate(40.52 479.4 81.7)"/>
<ellipse cx="473.9" cy="77" rx="2.5" ry="1.75" fill="url(#wg)" transform="rotate(13.72 473.9 77)"/>
<line x1="456.4" y1="94.1" x2="452.4" y2="88.9" stroke="#c9c6ae" stroke-width="0.4"/>
<line x1="456.4" y1="94.1" x2="463.3" y2="95" stroke="#c9c6ae" stroke-width="0.4"/>
<ellipse cx="452.4" cy="88.9" rx="1.5" ry="1.05" fill="url(#wg)" transform="rotate(-127.57 452.4 88.9)"/>
<ellipse cx="463.3" cy="95" rx="1.5" ry="1.05" fill="url(#wg)" transform="rotate(7.43 463.3 95)"/>
<ellipse cx="456.4" cy="94.1" rx="2.5" ry="1.75" fill="url(#wg)" transform="rotate(29.23 456.4 94.1)"/>
<ellipse cx="488.9" cy="93.3" rx="1.5" ry="1.05" fill="url(#wg)" transform="rotate(-30 488.9 93.3)"/>
<ellipse cx="493.9" cy="92.6" rx="1.5" ry="1.05" fill="url(#wg)" transform="rotate(-30 493.9 92.6)"/>
<ellipse cx="486.4" cy="97.2" rx="1.5" ry="1.05" fill="url(#wg)" transform="rotate(-30 486.4 97.2)"/>
<line x1="515.6" y1="84.4" x2="513.7" y2="79.2" stroke="#c9c6ae" stroke-width="0.4"/>
<line x1="515.6" y1="84.4" x2="512.8" y2="89.2" stroke="#c9c6ae" stroke-width="0.4"/>
<ellipse cx="513.7" cy="79.2" rx="1.5" ry="1.05" fill="url(#wg)" transform="rotate(-110.07 513.7 79.2)"/>
<ellipse cx="512.8" cy="89.2" rx="1.5" ry="1.05" fill="url(#wg)" transform="rotate(120.26 512.8 89.2)"/>
<ellipse cx="515.6" cy="84.4" rx="2.5" ry="1.75" fill="url(#wg)" transform="rotate(95.14 515.6 84.4)"/>
<line x1="433.3" y1="108.3" x2="428.4" y2="104.8" stroke="#c9c6ae" stroke-width="0.4"/>
<line x1="433.3" y1="108.3" x2="433.9" y2="115.6" stroke="#c9c6ae" stroke-width="0.4"/>
<ellipse cx="428.4" cy="104.8" rx="1.5" ry="1.05" fill="url(#wg)" transform="rotate(-144.46 428.4 104.8)"/>
<ellipse cx="433.9" cy="115.6" rx="1.5" ry="1.05" fill="url(#wg)" transform="rotate(85.3 433.9 115.6)"/>
<ellipse cx="433.3" cy="108.3" rx="2.5" ry="1.75" fill="url(#wg)" transform="rotate(63.01 433.3 108.3)"/>
<line x1="419.4" y1="117" x2="418.7" y2="112.6" stroke="#c9c6ae" stroke-width="0.4"/>
<line x1="419.4" y1="117" x2="423.9" y2="119.7" stroke="#c9c6ae" stroke-width="0.4"/>
<ellipse cx="418.7" cy="112.6" rx="1.5" ry="1.05" fill="url(#wg)" transform="rotate(-99.04 418.7 112.6)"/>
<ellipse cx="423.9" cy="119.7" rx="1.5" ry="1.05" fill="url(#wg)" transform="rotate(30.96 423.9 119.7)"/>
<ellipse cx="419.4" cy="117" rx="2.5" ry="1.75" fill="url(#wg)" transform="rotate(53.78 419.4 117)"/>
<line x1="409.1" y1="134.1" x2="414.7" y2="129.2" stroke="#c9c6ae" stroke-width="0.4"/>
<line x1="409.1" y1="134.1" x2="408.9" y2="141.1" stroke="#c9c6ae" stroke-width="0.4"/>
<ellipse cx="414.7" cy="129.2" rx="1.5" ry="1.05" fill="url(#wg)" transform="rotate(-41.19 414.7 129.2)"/>
<ellipse cx="408.9" cy="141.1" rx="1.5" ry="1.05" fill="url(#wg)" transform="rotate(91.64 408.9 141.1)"/>
<ellipse cx="409.1" cy="134.1" rx="2.5" ry="1.75" fill="url(#wg)" transform="rotate(115.98 409.1 134.1)"/>
<line x1="449.4" y1="131.7" x2="444.4" y2="128.9" stroke="#c9c6ae" stroke-width="0.4"/>
<line x1="449.4" y1="131.7" x2="450.6" y2="137.2" stroke="#c9c6ae" stroke-width="0.4"/>
<ellipse cx="444.4" cy="128.9" rx="1.5" ry="1.05" fill="url(#wg)" transform="rotate(-150.75 444.4 128.9)"/>
<ellipse cx="450.6" cy="137.2" rx="1.5" ry="1.05" fill="url(#wg)" transform="rotate(77.69 450.6 137.2)"/>
<ellipse cx="449.4" cy="131.7" rx="2.5" ry="1.75" fill="url(#wg)" transform="rotate(53.24 449.4 131.7)"/>
<line x1="471.1" y1="121.1" x2="474.4" y2="116.3" stroke="#c9c6ae" stroke-width="0.4"/>
<line x1="471.1" y1="121.1" x2="465.8" y2="121.7" stroke="#c9c6ae" stroke-width="0.4"/>
<ellipse cx="474.4" cy="116.3" rx="1.5" ry="1.05" fill="url(#wg)" transform="rotate(-55.49 474.4 116.3)"/>
<ellipse cx="465.8" cy="121.7" rx="1.5" ry="1.05" fill="url(#wg)" transform="rotate(173.54 465.8 121.7)"/>
<ellipse cx="471.1" cy="121.1" rx="2.5" ry="1.75" fill="url(#wg)" transform="rotate(147.88 471.1 121.1)"/>
<line x1="496.3" y1="108" x2="489.4" y2="107.6" stroke="#c9c6ae" stroke-width="0.4"/>
<ellipse cx="489.4" cy="107.6" rx="1.5" ry="1.05" fill="url(#wg)" transform="rotate(-176.68 489.4 107.6)"/>
<ellipse cx="496.3" cy="108" rx="2.5" ry="1.75" fill="url(#wg)" transform="rotate(-176.68 496.3 108)"/>
<line x1="499" y1="111.4" x2="493.1" y2="115" stroke="#c9c6ae" stroke-width="0.4"/>
<line x1="499" y1="111.4" x2="500.2" y2="115.2" stroke="#c9c6ae" stroke-width="0.4"/>
<ellipse cx="493.1" cy="115" rx="1.5" ry="1.05" fill="url(#wg)" transform="rotate(148.61 493.1 115)"/>
<ellipse cx="500.2" cy="115.2" rx="1.5" ry="1.05" fill="url(#wg)" transform="rotate(72.47 500.2 115.2)"/>
<ellipse cx="499" cy="111.4" rx="2.5" ry="1.75" fill="url(#wg)" transform="rotate(1.61 499 111.4)"/>
<line x1="501.7" y1="121.7" x2="497.6" y2="127.5" stroke="#c9c6ae" stroke-width="0.4"/>
<ellipse cx="497.6" cy="127.5" rx="1.5" ry="1.05" fill="url(#wg)" transform="rotate(125.26 497.6 127.5)"/>
<ellipse cx="501.7" cy="121.7" rx="2.5" ry="1.75" fill="url(#wg)" transform="rotate(125.26 501.7 121.7)"/>
<line x1="512.8" y1="117.2" x2="507.8" y2="112.6" stroke="#c9c6ae" stroke-width="0.4"/>
<line x1="512.8" y1="117.2" x2="512.4" y2="124.1" stroke="#c9c6ae" stroke-width="0.4"/>
<ellipse cx="507.8" cy="112.6" rx="1.5" ry="1.05" fill="url(#wg)" transform="rotate(-137.39 507.8 112.6)"/>
<ellipse cx="512.4" cy="124.1" rx="1.5" ry="1.05" fill="url(#wg)" transform="rotate(93.32 512.4 124.1)"/>
<ellipse cx="512.8" cy="117.2" rx="2.5" ry="1.75" fill="url(#wg)" transform="rotate(68.2 512.8 117.2)"/>
<line x1="507.8" y1="132.8" x2="513.3" y2="129.2" stroke="#c9c6ae" stroke-width="0.4"/>
<line x1="507.8" y1="132.8" x2="505.8" y2="139.2" stroke="#c9c6ae" stroke-width="0.4"/>
<ellipse cx="513.3" cy="129.2" rx="1.5" ry="1.05" fill="url(#wg)" transform="rotate(-33.21 513.3 129.2)"/>
<ellipse cx="505.8" cy="139.2" rx="1.5" ry="1.05" fill="url(#wg)" transform="rotate(107.35 505.8 139.2)"/>
<ellipse cx="507.8" cy="132.8" rx="2.5" ry="1.75" fill="url(#wg)" transform="rotate(126.87 507.8 132.8)"/>
<circle cx="402" cy="81.9" r="2" fill="#ff0000"/>
<circle cx="422" cy="85.2" r="2" fill="#ff0000"/>
<circle cx="415.6" cy="91.1" r="2" fill="#ff0000"/>
<circle cx="432.2" cy="81.7" r="2" fill="#ff0000"/>
<circle cx="440.7" cy="85" r="2" fill="#ff0000"/>
<circle cx="448.1" cy="86" r="2" fill="#ff0000"/>
<circle cx="441.2" cy="97.3" r="2" fill="#ff0000"/>
<circle cx="432.2" cy="100.3" r="2" fill="#ff0000"/>
<circle cx="403.9" cy="101.4" r="2" fill="#ff0000"/>
<circle cx="469.4" cy="85.6" r="2" fill="#ff0000"/>
<circle cx="473.3" cy="94.4" r="2" fill="#ff0000"/>
<circle cx="468.3" cy="99.4" r="2" fill="#ff0000"/>
<circle cx="487.5" cy="87" r="2" fill="#ff0000"/>
<circle cx="494.6" cy="97" r="2" fill="#ff0000"/>
<circle cx="490.1" cy="103.9" r="2" fill="#ff0000"/>
<circle cx="444.5" cy="105.4" r="2" fill="#ff0000"/>
<circle cx="506.3" cy="79.4" r="2" fill="#ff0000"/>
<circle cx="515.6" cy="92.2" r="2" fill="#ff0000"/>
<circle cx="520.6" cy="99.4" r="2" fill="#ff0000"/>
<circle cx="422.4" cy="111.4" r="2" fill="#ff0000"/>
<circle cx="430.6" cy="115" r="2" fill="#ff0000"/>
<circle cx="438.7" cy="113.3" r="2" fill="#ff0000"/>
<circle cx="450.5" cy="109.4" r="2" fill="#ff0000"/>
<circle cx="413.6" cy="119.4" r="2" fill="#ff0000"/>
<circle cx="433.3" cy="126.1" r="2" fill="#ff0000"/>
<circle cx="438.7" cy="128.3" r="2" fill="#ff0000"/>
<circle cx="422.8" cy="132.8" r="2" fill="#ff0000"/>
<circle cx="414.2" cy="137.8" r="2" fill="#ff0000"/>
<circle cx="428" cy="137.4" r="2" fill="#ff0000"/>
<circle cx="465" cy="116.3" r="2" fill="#ff0000"/>
<circle cx="475.8" cy="110.8" r="2" fill="#ff0000"/>
<circle cx="478.3" cy="106.1" r="2" fill="#ff0000"/>
<circle cx="460.6" cy="123.3" r="2" fill="#ff0000"/>
<circle cx="453.3" cy="128.6" r="2" fill="#ff0000"/>
<circle cx="473.9" cy="125.2" r="2" fill="#ff0000"/>
<circle cx="478" cy="133" r="2" fill="#ff0000"/>
<circle cx="490.6" cy="105.4" r="2" fill="#ff0000"/>
<circle cx="491.3" cy="113" r="2" fill="#ff0000"/>
<circle cx="493.9" cy="123.7" r="2" fill="#ff0000"/>
<circle cx="504.7" cy="107.8" r="2" fill="#ff0000"/>
<circle cx="506.4" cy="117" r="2" fill="#ff0000"/>
<circle cx="504.2" cy="128.1" r="2" fill="#ff0000"/>
<circle cx="523.1" cy="110" r="2" fill="#ff0000"/>
<circle cx="518.9" cy="118.1" r="2" fill="#ff0000"/>
<circle cx="516.7" cy="125.6" r="2" fill="#ff0000"/>
<circle cx="445" cy="82.2" r="2" fill="#1d4718"/>
<circle cx="444.5" cy="94.4" r="2" fill="#1d4718"/>
<circle cx="409.8" cy="97" r="2" fill="#1d4718"/>
<circle cx="461.7" cy="81.7" r="2" fill="#1d4718"/>
<circle cx="470.2" cy="90.8" r="2" fill="#1d4718"/>
<circle cx="476.4" cy="88.6" r="2" fill="#1d4718"/>
<circle cx="487.2" cy="81.4" r="2" fill="#1d4718"/>
<circle cx="496.9" cy="73.9" r="2" fill="#1d4718"/>
<circle cx="455.3" cy="102.2" r="2" fill="#1d4718"/>
<circle cx="509.7" cy="84.8" r="2" fill="#1d4718"/>
<circle cx="399.8" cy="106.3" r="2" fill="#1d4718"/>
<circle cx="406.7" cy="121.1" r="2" fill="#1d4718"/>
<circle cx="440.6" cy="124" r="2" fill="#1d4718"/>
<circle cx="435.8" cy="138.6" r="2" fill="#1d4718"/>
<circle cx="479.1" cy="113.7" r="2" fill="#1d4718"/>
<circle cx="476.1" cy="120" r="2" fill="#1d4718"/>
<circle cx="456.7" cy="125.2" r="2" fill="#1d4718"/>
<circle cx="468.3" cy="133" r="2" fill="#1d4718"/>
<circle cx="484.4" cy="138.9" r="2" fill="#1d4718"/>
<circle cx="496.1" cy="118.3" r="2" fill="#1d4718"/>
<circle cx="507.6" cy="122.2" r="2" fill="#1d4718"/>
<rect x="88.6" y="194" width="175.4" height="125.7" fill="none" stroke="#7c7c7c" stroke-width="0.85"/>
<path d="M123.68 319.7 v-3.3 M123.68 194 v3.3 M158.76 319.7 v-3.3 M158.76 194 v3.3 M193.84 319.7 v-3.3 M193.84 194 v3.3 M228.92 319.7 v-3.3 M228.92 194 v3.3 M88.6 214.95 h3.3 M264 214.95 h-3.3 M88.6 235.9 h3.3 M264 235.9 h-3.3 M88.6 256.85 h3.3 M264 256.85 h-3.3 M88.6 277.8 h3.3 M264 277.8 h-3.3 M88.6 298.75 h3.3 M264 298.75 h-3.3 " stroke="#222" stroke-width="1.25" fill="none"/>
<path d="M99.16 319.7 v-2.1 M99.16 194 v2.1 M105.34 319.7 v-2.1 M105.34 194 v2.1 M109.72 319.7 v-2.1 M109.72 194 v2.1 M113.12 319.7 v-2.1 M113.12 194 v2.1 M115.9 319.7 v-2.1 M115.9 194 v2.1 M118.25 319.7 v-2.1 M118.25 194 v2.1 M120.28 319.7 v-2.1 M120.28 194 v2.1 M122.07 319.7 v-2.1 M122.07 194 v2.1 M134.24 319.7 v-2.1 M134.24 194 v2.1 M140.42 319.7 v-2.1 M140.42 194 v2.1 M144.8 319.7 v-2.1 M144.8 194 v2.1 M148.2 319.7 v-2.1 M148.2 194 v2.1 M150.98 319.7 v-2.1 M150.98 194 v2.1 M153.33 319.7 v-2.1 M153.33 194 v2.1 M155.36 319.7 v-2.1 M155.36 194 v2.1 M157.15 319.7 v-2.1 M157.15 194 v2.1 M169.32 319.7 v-2.1 M169.32 194 v2.1 M175.5 319.7 v-2.1 M175.5 194 v2.1 M179.88 319.7 v-2.1 M179.88 194 v2.1 M183.28 319.7 v-2.1 M183.28 194 v2.1 M186.06 319.7 v-2.1 M186.06 194 v2.1 M188.41 319.7 v-2.1 M188.41 194 v2.1 M190.44 319.7 v-2.1 M190.44 194 v2.1 M192.23 319.7 v-2.1 M192.23 194 v2.1 M204.4 319.7 v-2.1 M204.4 194 v2.1 M210.58 319.7 v-2.1 M210.58 194 v2.1 M214.96 319.7 v-2.1 M214.96 194 v2.1 M218.36 319.7 v-2.1 M218.36 194 v2.1 M221.14 319.7 v-2.1 M221.14 194 v2.1 M223.49 319.7 v-2.1 M223.49 194 v2.1 M225.52 319.7 v-2.1 M225.52 194 v2.1 M227.31 319.7 v-2.1 M227.31 194 v2.1 M239.48 319.7 v-2.1 M239.48 194 v2.1 M245.66 319.7 v-2.1 M245.66 194 v2.1 M250.04 319.7 v-2.1 M250.04 194 v2.1 M253.44 319.7 v-2.1 M253.44 194 v2.1 M256.22 319.7 v-2.1 M256.22 194 v2.1 M258.57 319.7 v-2.1 M258.57 194 v2.1 M260.6 319.7 v-2.1 M260.6 194 v2.1 M262.39 319.7 v-2.1 M262.39 194 v2.1 M88.6 208.64 h2.1 M264 208.64 h-2.1 M88.6 204.95 h2.1 M264 204.95 h-2.1 M88.6 202.34 h2.1 M264 202.34 h-2.1 M88.6 200.31 h2.1 M264 200.31 h-2.1 M88.6 198.65 h2.1 M264 198.65 h-2.1 M88.6 197.25 h2.1 M264 197.25 h-2.1 M88.6 196.03 h2.1 M264 196.03 h-2.1 M88.6 194.96 h2.1 M264 194.96 h-2.1 M88.6 229.59 h2.1 M264 229.59 h-2.1 M88.6 225.9 h2.1 M264 225.9 h-2.1 M88.6 223.29 h2.1 M264 223.29 h-2.1 M88.6 221.26 h2.1 M264 221.26 h-2.1 M88.6 219.6 h2.1 M264 219.6 h-2.1 M88.6 218.2 h2.1 M264 218.2 h-2.1 M88.6 216.98 h2.1 M264 216.98 h-2.1 M88.6 215.91 h2.1 M264 215.91 h-2.1 M88.6 250.54 h2.1 M264 250.54 h-2.1 M88.6 246.85 h2.1 M264 246.85 h-2.1 M88.6 244.24 h2.1 M264 244.24 h-2.1 M88.6 242.21 h2.1 M264 242.21 h-2.1 M88.6 240.55 h2.1 M264 240.55 h-2.1 M88.6 239.15 h2.1 M264 239.15 h-2.1 M88.6 237.93 h2.1 M264 237.93 h-2.1 M88.6 236.86 h2.1 M264 236.86 h-2.1 M88.6 271.49 h2.1 M264 271.49 h-2.1 M88.6 267.8 h2.1 M264 267.8 h-2.1 M88.6 265.19 h2.1 M264 265.19 h-2.1 M88.6 263.16 h2.1 M264 263.16 h-2.1 M88.6 261.5 h2.1 M264 261.5 h-2.1 M88.6 260.1 h2.1 M264 260.1 h-2.1 M88.6 258.88 h2.1 M264 258.88 h-2.1 M88.6 257.81 h2.1 M264 257.81 h-2.1 M88.6 292.44 h2.1 M264 292.44 h-2.1 M88.6 288.75 h2.1 M264 288.75 h-2.1 M88.6 286.14 h2.1 M264 286.14 h-2.1 M88.6 284.11 h2.1 M264 284.11 h-2.1 M88.6 282.45 h2.1 M264 282.45 h-2.1 M88.6 281.05 h2.1 M264 281.05 h-2.1 M88.6 279.83 h2.1 M264 279.83 h-2.1 M88.6 278.76 h2.1 M264 278.76 h-2.1 M88.6 313.39 h2.1 M264 313.39 h-2.1 M88.6 309.7 h2.1 M264 309.7 h-2.1 M88.6 307.09 h2.1 M264 307.09 h-2.1 M88.6 305.06 h2.1 M264 305.06 h-2.1 M88.6 303.4 h2.1 M264 303.4 h-2.1 M88.6 302 h2.1 M264 302 h-2.1 M88.6 300.78 h2.1 M264 300.78 h-2.1 M88.6 299.71 h2.1 M264 299.71 h-2.1 " stroke="#555" stroke-width="0.7" fill="none"/>
<g fill="#fff" stroke="#000000" stroke-width="0.75"><use href="#m0" x="115.9" y="287"/><use href="#m0" x="126.46" y="285.29"/><use href="#m0" x="132.63" y="284.19"/><use href="#m0" x="137.02" y="281.57"/><use href="#m0" x="140.42" y="279.52"/><use href="#m0" x="143.2" y="277.25"/><use href="#m0" x="145.54" y="275.49"/><use href="#m0" x="147.58" y="273.58"/><use href="#m0" x="149.37" y="271.33"/><use href="#m0" x="150.98" y="269.16"/><use href="#m0" x="152.43" y="267.03"/><use href="#m0" x="153.76" y="264.98"/><use href="#m0" x="154.97" y="263.04"/><use href="#m0" x="156.1" y="261.16"/><use href="#m0" x="157.15" y="259.34"/><use href="#m0" x="158.14" y="257.62"/><use href="#m0" x="159.06" y="256.03"/><use href="#m0" x="159.93" y="254.51"/><use href="#m0" x="160.76" y="253.07"/><use href="#m0" x="161.54" y="251.75"/><use href="#m0" x="162.28" y="250.55"/><use href="#m0" x="162.99" y="249.45"/><use href="#m0" x="163.67" y="248.42"/><use href="#m0" x="164.32" y="247.45"/><use href="#m0" x="164.94" y="246.54"/><use href="#m0" x="165.53" y="245.67"/><use href="#m0" x="166.11" y="244.84"/><use href="#m0" x="166.66" y="244.06"/><use href="#m0" x="167.2" y="243.31"/><use href="#m0" x="167.71" y="242.6"/><use href="#m0" x="168.21" y="241.92"/><use href="#m0" x="168.7" y="241.26"/><use href="#m0" x="169.17" y="240.63"/><use href="#m0" x="169.62" y="240.01"/><use href="#m0" x="170.06" y="239.41"/><use href="#m0" x="170.49" y="238.82"/><use href="#m0" x="170.91" y="238.24"/><use href="#m0" x="171.32" y="237.68"/><use href="#m0" x="171.71" y="237.12"/><use href="#m0" x="172.1" y="236.58"/><use href="#m0" x="172.47" y="236.06"/><use href="#m0" x="172.84" y="235.55"/><use href="#m0" x="173.2" y="235.07"/><use href="#m0" x="173.55" y="234.6"/><use href="#m0" x="173.89" y="234.16"/><use href="#m0" x="174.23" y="233.73"/><use href="#m0" x="174.55" y="233.33"/><use href="#m0" x="174.88" y="232.94"/><use href="#m0" x="175.19" y="232.58"/><use href="#m0" x="175.5" y="232.23"/><use href="#m0" x="175.8" y="231.88"/><use href="#m0" x="176.39" y="231.22"/><use href="#m0" x="176.95" y="230.6"/><use href="#m0" x="177.49" y="230"/><use href="#m0" x="178.02" y="229.45"/><use href="#m0" x="178.53" y="228.92"/><use href="#m0" x="179.02" y="228.43"/><use href="#m0" x="179.49" y="227.96"/><use href="#m0" x="179.96" y="227.52"/><use href="#m0" x="180.4" y="227.12"/><use href="#m0" x="180.84" y="226.74"/><use href="#m0" x="181.26" y="226.38"/><use href="#m0" x="181.67" y="226.05"/><use href="#m0" x="182.08" y="225.74"/><use href="#m0" x="182.47" y="225.45"/><use href="#m0" x="182.85" y="225.18"/><use href="#m0" x="183.22" y="224.91"/><use href="#m0" x="183.58" y="224.65"/><use href="#m0" x="183.94" y="224.41"/><use href="#m0" x="184.28" y="224.17"/><use href="#m0" x="184.62" y="223.94"/><use href="#m0" x="184.95" y="223.73"/><use href="#m0" x="185.28" y="223.51"/><use href="#m0" x="185.59" y="223.31"/><use href="#m0" x="185.9" y="223.11"/><use href="#m0" x="186.21" y="222.92"/><use href="#m0" x="186.66" y="222.65"/><use href="#m0" x="187.09" y="222.39"/><use href="#m0" x="187.51" y="222.14"/><use href="#m0" x="187.92" y="221.9"/><use href="#m0" x="188.32" y="221.67"/><use href="#m0" x="188.71" y="221.45"/><use href="#m0" x="189.09" y="221.24"/><use href="#m0" x="189.46" y="221.04"/><use href="#m0" x="189.82" y="220.84"/><use href="#m0" x="190.17" y="220.66"/><use href="#m0" x="190.52" y="220.47"/><use href="#m0" x="190.85" y="220.3"/><use href="#m0" x="191.18" y="220.13"/><use href="#m0" x="191.51" y="219.97"/><use href="#m0" x="191.82" y="219.81"/><use href="#m0" x="192.13" y="219.65"/><use href="#m0" x="192.44" y="219.51"/><use href="#m0" x="192.83" y="219.31"/><use href="#m0" x="193.22" y="219.13"/><use href="#m0" x="193.59" y="218.95"/><use href="#m0" x="193.96" y="218.78"/><use href="#m0" x="194.32" y="218.61"/><use href="#m0" x="194.67" y="218.45"/><use href="#m0" x="195.01" y="218.29"/><use href="#m0" x="195.35" y="218.14"/><use href="#m0" x="195.68" y="217.99"/><use href="#m0" x="196" y="217.85"/><use href="#m0" x="196.31" y="217.71"/><use href="#m0" x="196.62" y="217.58"/><use href="#m0" x="196.92" y="217.44"/><use href="#m0" x="197.29" y="217.28"/><use href="#m0" x="197.65" y="217.13"/><use href="#m0" x="198" y="216.98"/><use href="#m0" x="198.34" y="216.83"/><use href="#m0" x="198.68" y="216.69"/><use href="#m0" x="199.01" y="216.55"/><use href="#m0" x="199.33" y="216.42"/><use href="#m0" x="199.65" y="216.29"/><use href="#m0" x="199.96" y="216.17"/><use href="#m0" x="200.26" y="216.05"/><use href="#m0" x="200.61" y="215.9"/><use href="#m0" x="200.96" y="215.77"/><use href="#m0" x="201.3" y="215.64"/><use href="#m0" x="201.63" y="215.51"/><use href="#m0" x="201.96" y="215.39"/><use href="#m0" x="202.28" y="215.27"/><use href="#m0" x="202.59" y="215.16"/><use href="#m0" x="202.9" y="215.05"/><use href="#m0" x="203.25" y="214.92"/><use href="#m0" x="203.59" y="214.81"/><use href="#m0" x="203.92" y="214.69"/><use href="#m0" x="204.25" y="214.58"/><use href="#m0" x="204.57" y="214.48"/><use href="#m0" x="204.88" y="214.37"/><use href="#m0" x="205.19" y="214.28"/><use href="#m0" x="205.49" y="214.18"/><use href="#m0" x="205.82" y="214.08"/><use href="#m0" x="206.15" y="213.98"/><use href="#m0" x="206.48" y="213.89"/><use href="#m0" x="206.79" y="213.8"/><use href="#m0" x="207.1" y="213.71"/><use href="#m0" x="207.4" y="213.63"/><use href="#m0" x="207.74" y="213.54"/><use href="#m0" x="208.07" y="213.45"/><use href="#m0" x="208.39" y="213.37"/><use href="#m0" x="208.7" y="213.29"/><use href="#m0" x="209.01" y="213.21"/><use href="#m0" x="209.31" y="213.13"/><use href="#m0" x="209.63" y="213.05"/><use href="#m0" x="209.96" y="212.97"/><use href="#m0" x="210.27" y="212.89"/><use href="#m0" x="210.58" y="212.82"/><use href="#m0" x="210.88" y="212.75"/><use href="#m0" x="211.2" y="212.67"/><use href="#m0" x="211.52" y="212.59"/><use href="#m0" x="211.83" y="212.52"/><use href="#m0" x="212.14" y="212.45"/><use href="#m0" x="212.47" y="212.38"/><use href="#m0" x="212.79" y="212.31"/><use href="#m0" x="213.1" y="212.24"/><use href="#m0" x="213.41" y="212.18"/><use href="#m0" x="213.71" y="212.11"/><use href="#m0" x="214.03" y="212.05"/><use href="#m0" x="214.34" y="211.98"/><use href="#m0" x="214.64" y="211.92"/><use href="#m0" x="214.95" y="211.86"/><use href="#m0" x="215.26" y="211.8"/><use href="#m0" x="215.57" y="211.74"/><use href="#m0" x="215.88" y="211.68"/><use href="#m0" x="216.2" y="211.62"/><use href="#m0" x="216.51" y="211.56"/><use href="#m0" x="216.82" y="211.51"/><use href="#m0" x="217.12" y="211.46"/><use href="#m0" x="217.43" y="211.4"/><use href="#m0" x="217.74" y="211.35"/><use href="#m0" x="218.04" y="211.3"/><use href="#m0" x="218.35" y="211.25"/><use href="#m0" x="218.66" y="211.2"/><use href="#m0" x="218.96" y="211.15"/><use href="#m0" x="219.28" y="211.11"/><use href="#m0" x="219.58" y="211.06"/><use href="#m0" x="219.88" y="211.02"/><use href="#m0" x="220.19" y="210.97"/><use href="#m0" x="220.5" y="210.93"/><use href="#m0" x="220.81" y="210.89"/><use href="#m0" x="221.12" y="210.84"/><use href="#m0" x="221.42" y="210.8"/><use href="#m0" x="221.74" y="210.76"/><use href="#m0" x="222.04" y="210.72"/><use href="#m0" x="222.35" y="210.67"/><use href="#m0" x="222.66" y="210.63"/><use href="#m0" x="222.96" y="210.59"/><use href="#m0" x="223.27" y="210.55"/><use href="#m0" x="223.57" y="210.51"/><use href="#m0" x="223.88" y="210.48"/><use href="#m0" x="224.18" y="210.44"/><use href="#m0" x="224.49" y="210.4"/><use href="#m0" x="224.79" y="210.36"/><use href="#m0" x="225.1" y="210.32"/><use href="#m0" x="225.4" y="210.29"/><use href="#m0" x="225.71" y="210.25"/><use href="#m0" x="226.01" y="210.22"/><use href="#m0" x="226.32" y="210.18"/><use href="#m0" x="226.62" y="210.15"/><use href="#m0" x="226.92" y="210.11"/><use href="#m0" x="227.23" y="210.08"/><use href="#m0" x="227.54" y="210.05"/><use href="#m0" x="227.84" y="210.02"/><use href="#m0" x="228.14" y="209.99"/><use href="#m0" x="228.45" y="209.96"/><use href="#m0" x="228.76" y="209.93"/><use href="#m0" x="229.06" y="209.9"/><use href="#m0" x="229.36" y="209.87"/><use href="#m0" x="229.67" y="209.84"/><use href="#m0" x="229.97" y="209.82"/><use href="#m0" x="230.28" y="209.79"/><use href="#m0" x="230.58" y="209.77"/><use href="#m0" x="230.88" y="209.74"/><use href="#m0" x="231.19" y="209.72"/><use href="#m0" x="231.49" y="209.7"/><use href="#m0" x="231.8" y="209.68"/><use href="#m0" x="232.1" y="209.65"/><use href="#m0" x="232.4" y="209.64"/></g>
<g fill="#fff" stroke="#ff0000" stroke-width="0.75"><use href="#m1" x="115.9" y="291"/><use href="#m1" x="126.46" y="290.29"/><use href="#m1" x="132.63" y="287.24"/><use href="#m1" x="137.02" y="285.59"/><use href="#m1" x="140.42" y="283.32"/><use href="#m1" x="143.2" y="281.24"/><use href="#m1" x="145.54" y="279.34"/><use href="#m1" x="147.58" y="277.02"/><use href="#m1" x="149.37" y="274.21"/><use href="#m1" x="150.98" y="271.65"/><use href="#m1" x="152.43" y="269.3"/><use href="#m1" x="153.76" y="267.05"/><use href="#m1" x="154.97" y="264.85"/><use href="#m1" x="156.1" y="262.65"/><use href="#m1" x="157.15" y="260.46"/><use href="#m1" x="158.14" y="258.35"/><use href="#m1" x="159.06" y="256.29"/><use href="#m1" x="159.93" y="254.25"/><use href="#m1" x="160.76" y="252.31"/><use href="#m1" x="161.54" y="250.51"/><use href="#m1" x="162.28" y="248.9"/><use href="#m1" x="162.99" y="247.4"/><use href="#m1" x="163.67" y="246"/><use href="#m1" x="164.32" y="244.69"/><use href="#m1" x="164.94" y="243.48"/><use href="#m1" x="165.53" y="242.35"/><use href="#m1" x="166.11" y="241.3"/><use href="#m1" x="166.66" y="240.32"/><use href="#m1" x="167.2" y="239.39"/><use href="#m1" x="167.71" y="238.52"/><use href="#m1" x="168.21" y="237.7"/><use href="#m1" x="168.7" y="236.93"/><use href="#m1" x="169.17" y="236.21"/><use href="#m1" x="169.62" y="235.54"/><use href="#m1" x="170.06" y="234.91"/><use href="#m1" x="170.49" y="234.33"/><use href="#m1" x="170.91" y="233.77"/><use href="#m1" x="171.32" y="233.24"/><use href="#m1" x="171.71" y="232.73"/><use href="#m1" x="172.1" y="232.25"/><use href="#m1" x="172.47" y="231.79"/><use href="#m1" x="172.84" y="231.36"/><use href="#m1" x="173.2" y="230.94"/><use href="#m1" x="173.55" y="230.54"/><use href="#m1" x="173.89" y="230.17"/><use href="#m1" x="174.23" y="229.8"/><use href="#m1" x="174.55" y="229.46"/><use href="#m1" x="174.88" y="229.13"/><use href="#m1" x="175.19" y="228.81"/><use href="#m1" x="175.5" y="228.5"/><use href="#m1" x="175.8" y="228.21"/><use href="#m1" x="176.39" y="227.64"/><use href="#m1" x="176.95" y="227.1"/><use href="#m1" x="177.49" y="226.6"/><use href="#m1" x="178.02" y="226.13"/><use href="#m1" x="178.53" y="225.69"/><use href="#m1" x="179.02" y="225.27"/><use href="#m1" x="179.49" y="224.87"/><use href="#m1" x="179.96" y="224.5"/><use href="#m1" x="180.4" y="224.15"/><use href="#m1" x="180.84" y="223.82"/><use href="#m1" x="181.26" y="223.51"/><use href="#m1" x="181.67" y="223.22"/><use href="#m1" x="182.08" y="222.95"/><use href="#m1" x="182.47" y="222.69"/><use href="#m1" x="182.85" y="222.43"/><use href="#m1" x="183.22" y="222.19"/><use href="#m1" x="183.58" y="221.96"/><use href="#m1" x="183.94" y="221.73"/><use href="#m1" x="184.28" y="221.51"/><use href="#m1" x="184.62" y="221.3"/><use href="#m1" x="184.95" y="221.1"/><use href="#m1" x="185.28" y="220.9"/><use href="#m1" x="185.59" y="220.71"/><use href="#m1" x="185.9" y="220.52"/><use href="#m1" x="186.21" y="220.34"/><use href="#m1" x="186.66" y="220.08"/><use href="#m1" x="187.09" y="219.83"/><use href="#m1" x="187.51" y="219.59"/><use href="#m1" x="187.92" y="219.37"/><use href="#m1" x="188.32" y="219.15"/><use href="#m1" x="188.71" y="218.94"/><use href="#m1" x="189.09" y="218.74"/><use href="#m1" x="189.46" y="218.55"/><use href="#m1" x="189.82" y="218.36"/><use href="#m1" x="190.17" y="218.18"/><use href="#m1" x="190.52" y="218.01"/><use href="#m1" x="190.85" y="217.84"/><use href="#m1" x="191.18" y="217.68"/><use href="#m1" x="191.51" y="217.53"/><use href="#m1" x="191.82" y="217.38"/><use href="#m1" x="192.13" y="217.24"/><use href="#m1" x="192.44" y="217.1"/><use href="#m1" x="192.83" y="216.92"/><use href="#m1" x="193.22" y="216.75"/><use href="#m1" x="193.59" y="216.58"/><use href="#m1" x="193.96" y="216.43"/><use href="#m1" x="194.32" y="216.28"/><use href="#m1" x="194.67" y="216.13"/><use href="#m1" x="195.01" y="215.99"/><use href="#m1" x="195.35" y="215.86"/><use href="#m1" x="195.68" y="215.73"/><use href="#m1" x="196" y="215.61"/><use href="#m1" x="196.31" y="215.49"/><use href="#m1" x="196.62" y="215.37"/><use href="#m1" x="196.92" y="215.26"/><use href="#m1" x="197.29" y="215.12"/><use href="#m1" x="197.65" y="214.99"/><use href="#m1" x="198" y="214.87"/><use href="#m1" x="198.34" y="214.74"/><use href="#m1" x="198.68" y="214.63"/><use href="#m1" x="199.01" y="214.51"/><use href="#m1" x="199.33" y="214.4"/><use href="#m1" x="199.65" y="214.3"/><use href="#m1" x="199.96" y="214.19"/><use href="#m1" x="200.26" y="214.09"/><use href="#m1" x="200.61" y="213.98"/><use href="#m1" x="200.96" y="213.87"/><use href="#m1" x="201.3" y="213.76"/><use href="#m1" x="201.63" y="213.66"/><use href="#m1" x="201.96" y="213.56"/><use href="#m1" x="202.28" y="213.46"/><use href="#m1" x="202.59" y="213.36"/><use href="#m1" x="202.9" y="213.27"/><use href="#m1" x="203.25" y="213.17"/><use href="#m1" x="203.59" y="213.07"/><use href="#m1" x="203.92" y="212.97"/><use href="#m1" x="204.25" y="212.88"/><use href="#m1" x="204.57" y="212.79"/><use href="#m1" x="204.88" y="212.7"/><use href="#m1" x="205.19" y="212.62"/><use href="#m1" x="205.49" y="212.53"/><use href="#m1" x="205.82" y="212.44"/><use href="#m1" x="206.15" y="212.35"/><use href="#m1" x="206.48" y="212.27"/><use href="#m1" x="206.79" y="212.18"/><use href="#m1" x="207.1" y="212.1"/><use href="#m1" x="207.4" y="212.02"/><use href="#m1" x="207.74" y="211.94"/><use href="#m1" x="208.07" y="211.86"/><use href="#m1" x="208.39" y="211.77"/><use href="#m1" x="208.7" y="211.69"/><use href="#m1" x="209.01" y="211.62"/><use href="#m1" x="209.31" y="211.54"/><use href="#m1" x="209.63" y="211.46"/><use href="#m1" x="209.96" y="211.38"/><use href="#m1" x="210.27" y="211.31"/><use href="#m1" x="210.58" y="211.23"/><use href="#m1" x="210.88" y="211.16"/><use href="#m1" x="211.2" y="211.09"/><use href="#m1" x="211.52" y="211.01"/><use href="#m1" x="211.83" y="210.94"/><use href="#m1" x="212.14" y="210.87"/><use href="#m1" x="212.47" y="210.79"/><use href="#m1" x="212.79" y="210.72"/><use href="#m1" x="213.1" y="210.65"/><use href="#m1" x="213.41" y="210.58"/><use href="#m1" x="213.71" y="210.52"/><use href="#m1" x="214.03" y="210.45"/><use href="#m1" x="214.34" y="210.38"/><use href="#m1" x="214.64" y="210.32"/><use href="#m1" x="214.95" y="210.25"/><use href="#m1" x="215.26" y="210.19"/><use href="#m1" x="215.57" y="210.12"/><use href="#m1" x="215.88" y="210.06"/><use href="#m1" x="216.2" y="210"/><use href="#m1" x="216.51" y="209.94"/><use href="#m1" x="216.82" y="209.88"/><use href="#m1" x="217.12" y="209.82"/><use href="#m1" x="217.43" y="209.76"/><use href="#m1" x="217.74" y="209.7"/><use href="#m1" x="218.04" y="209.64"/><use href="#m1" x="218.35" y="209.59"/><use href="#m1" x="218.66" y="209.53"/><use href="#m1" x="218.96" y="209.48"/><use href="#m1" x="219.28" y="209.42"/><use href="#m1" x="219.58" y="209.37"/><use href="#m1" x="219.88" y="209.32"/><use href="#m1" x="220.19" y="209.27"/><use href="#m1" x="220.5" y="209.22"/><use href="#m1" x="220.81" y="209.17"/><use href="#m1" x="221.12" y="209.11"/><use href="#m1" x="221.42" y="209.07"/><use href="#m1" x="221.74" y="209.01"/><use href="#m1" x="222.04" y="208.97"/><use href="#m1" x="222.35" y="208.92"/><use href="#m1" x="222.66" y="208.87"/><use href="#m1" x="222.96" y="208.82"/><use href="#m1" x="223.27" y="208.77"/><use href="#m1" x="223.57" y="208.73"/><use href="#m1" x="223.88" y="208.68"/><use href="#m1" x="224.18" y="208.63"/><use href="#m1" x="224.49" y="208.59"/><use href="#m1" x="224.79" y="208.54"/><use href="#m1" x="225.1" y="208.5"/><use href="#m1" x="225.4" y="208.45"/><use href="#m1" x="225.71" y="208.41"/><use href="#m1" x="226.01" y="208.37"/><use href="#m1" x="226.32" y="208.32"/><use href="#m1" x="226.62" y="208.28"/><use href="#m1" x="226.92" y="208.24"/><use href="#m1" x="227.23" y="208.2"/><use href="#m1" x="227.54" y="208.16"/><use href="#m1" x="227.84" y="208.12"/><use href="#m1" x="228.14" y="208.08"/><use href="#m1" x="228.45" y="208.04"/><use href="#m1" x="228.76" y="208"/><use href="#m1" x="229.06" y="207.97"/><use href="#m1" x="229.36" y="207.93"/><use href="#m1" x="229.67" y="207.89"/><use href="#m1" x="229.97" y="207.86"/><use href="#m1" x="230.28" y="207.82"/><use href="#m1" x="230.58" y="207.79"/><use href="#m1" x="230.88" y="207.76"/><use href="#m1" x="231.19" y="207.73"/><use href="#m1" x="231.49" y="207.7"/><use href="#m1" x="231.8" y="207.67"/><use href="#m1" x="232.1" y="207.64"/><use href="#m1" x="232.4" y="207.61"/><use href="#m1" x="232.71" y="207.58"/><use href="#m1" x="233.01" y="207.55"/><use href="#m1" x="233.32" y="207.53"/><use href="#m1" x="233.62" y="207.5"/><use href="#m1" x="233.93" y="207.47"/><use href="#m1" x="234.23" y="207.45"/><use href="#m1" x="234.53" y="207.42"/><use href="#m1" x="234.83" y="207.4"/><use href="#m1" x="235.13" y="207.37"/><use href="#m1" x="235.43" y="207.35"/><use href="#m1" x="235.74" y="207.33"/><use href="#m1" x="236.04" y="207.3"/><use href="#m1" x="236.34" y="207.28"/><use href="#m1" x="236.64" y="207.26"/><use href="#m1" x="236.94" y="207.24"/><use href="#m1" x="237.25" y="207.21"/><use href="#m1" x="237.55" y="207.19"/><use href="#m1" x="237.85" y="207.17"/><use href="#m1" x="238.16" y="207.15"/><use href="#m1" x="238.46" y="207.14"/><use href="#m1" x="238.76" y="207.12"/><use href="#m1" x="239.06" y="207.1"/><use href="#m1" x="239.36" y="207.08"/></g>
<g fill="#fff" stroke="#0000ff" stroke-width="0.75"><use href="#m2" x="115.9" y="300"/><use href="#m2" x="126.46" y="299.7"/><use href="#m2" x="132.63" y="299.59"/><use href="#m2" x="137.02" y="298.29"/><use href="#m2" x="140.42" y="297.08"/><use href="#m2" x="143.2" y="295.23"/><use href="#m2" x="145.54" y="293.1"/><use href="#m2" x="147.58" y="291.06"/><use href="#m2" x="149.37" y="288.92"/><use href="#m2" x="150.98" y="286.58"/><use href="#m2" x="152.43" y="284.18"/><use href="#m2" x="153.76" y="281.85"/><use href="#m2" x="154.97" y="279.52"/><use href="#m2" x="156.1" y="277.24"/><use href="#m2" x="157.15" y="275.04"/><use href="#m2" x="158.14" y="272.95"/><use href="#m2" x="159.06" y="270.95"/><use href="#m2" x="159.93" y="269"/><use href="#m2" x="160.76" y="267.1"/><use href="#m2" x="161.54" y="265.24"/><use href="#m2" x="162.28" y="263.4"/><use href="#m2" x="162.99" y="261.57"/><use href="#m2" x="163.67" y="259.77"/><use href="#m2" x="164.32" y="258.03"/><use href="#m2" x="164.94" y="256.36"/><use href="#m2" x="165.53" y="254.78"/><use href="#m2" x="166.11" y="253.26"/><use href="#m2" x="166.66" y="251.79"/><use href="#m2" x="167.2" y="250.37"/><use href="#m2" x="167.71" y="249"/><use href="#m2" x="168.21" y="247.68"/><use href="#m2" x="168.7" y="246.42"/><use href="#m2" x="169.17" y="245.2"/><use href="#m2" x="169.62" y="244.03"/><use href="#m2" x="170.06" y="242.87"/><use href="#m2" x="170.49" y="241.75"/><use href="#m2" x="170.91" y="240.65"/><use href="#m2" x="171.32" y="239.6"/><use href="#m2" x="171.71" y="238.6"/><use href="#m2" x="172.1" y="237.65"/><use href="#m2" x="172.47" y="236.76"/><use href="#m2" x="172.84" y="235.94"/><use href="#m2" x="173.2" y="235.18"/><use href="#m2" x="173.55" y="234.45"/><use href="#m2" x="173.89" y="233.75"/><use href="#m2" x="174.23" y="233.08"/><use href="#m2" x="174.55" y="232.44"/><use href="#m2" x="174.88" y="231.83"/><use href="#m2" x="175.19" y="231.25"/><use href="#m2" x="175.5" y="230.69"/><use href="#m2" x="175.8" y="230.17"/><use href="#m2" x="176.39" y="229.21"/><use href="#m2" x="176.95" y="228.37"/><use href="#m2" x="177.49" y="227.62"/><use href="#m2" x="178.02" y="226.92"/><use href="#m2" x="178.53" y="226.26"/><use href="#m2" x="179.02" y="225.65"/><use href="#m2" x="179.49" y="225.07"/><use href="#m2" x="179.96" y="224.54"/><use href="#m2" x="180.4" y="224.03"/><use href="#m2" x="180.84" y="223.56"/><use href="#m2" x="181.26" y="223.12"/><use href="#m2" x="181.67" y="222.7"/><use href="#m2" x="182.08" y="222.3"/><use href="#m2" x="182.47" y="221.93"/><use href="#m2" x="182.85" y="221.59"/><use href="#m2" x="183.22" y="221.26"/><use href="#m2" x="183.58" y="220.95"/><use href="#m2" x="183.94" y="220.65"/><use href="#m2" x="184.28" y="220.37"/><use href="#m2" x="184.62" y="220.1"/><use href="#m2" x="184.95" y="219.84"/><use href="#m2" x="185.28" y="219.59"/><use href="#m2" x="185.59" y="219.35"/><use href="#m2" x="185.9" y="219.11"/><use href="#m2" x="186.21" y="218.88"/><use href="#m2" x="186.66" y="218.56"/><use href="#m2" x="187.09" y="218.24"/><use href="#m2" x="187.51" y="217.95"/><use href="#m2" x="187.92" y="217.66"/><use href="#m2" x="188.32" y="217.39"/><use href="#m2" x="188.71" y="217.13"/><use href="#m2" x="189.09" y="216.89"/><use href="#m2" x="189.46" y="216.65"/><use href="#m2" x="189.82" y="216.42"/><use href="#m2" x="190.17" y="216.21"/><use href="#m2" x="190.52" y="216"/><use href="#m2" x="190.85" y="215.81"/><use href="#m2" x="191.18" y="215.62"/><use href="#m2" x="191.51" y="215.44"/><use href="#m2" x="191.82" y="215.27"/><use href="#m2" x="192.13" y="215.11"/><use href="#m2" x="192.44" y="214.95"/><use href="#m2" x="192.83" y="214.75"/><use href="#m2" x="193.22" y="214.57"/><use href="#m2" x="193.59" y="214.39"/><use href="#m2" x="193.96" y="214.23"/><use href="#m2" x="194.32" y="214.08"/><use href="#m2" x="194.67" y="213.93"/><use href="#m2" x="195.01" y="213.8"/><use href="#m2" x="195.35" y="213.67"/><use href="#m2" x="195.68" y="213.54"/><use href="#m2" x="196" y="213.42"/><use href="#m2" x="196.31" y="213.31"/><use href="#m2" x="196.62" y="213.2"/><use href="#m2" x="196.92" y="213.1"/><use href="#m2" x="197.29" y="212.97"/><use href="#m2" x="197.65" y="212.85"/><use href="#m2" x="198" y="212.74"/><use href="#m2" x="198.34" y="212.63"/><use href="#m2" x="198.68" y="212.52"/><use href="#m2" x="199.01" y="212.42"/><use href="#m2" x="199.33" y="212.32"/><use href="#m2" x="199.65" y="212.23"/><use href="#m2" x="199.96" y="212.14"/><use href="#m2" x="200.26" y="212.05"/><use href="#m2" x="200.61" y="211.95"/><use href="#m2" x="200.96" y="211.86"/><use href="#m2" x="201.3" y="211.77"/><use href="#m2" x="201.63" y="211.68"/><use href="#m2" x="201.96" y="211.59"/><use href="#m2" x="202.28" y="211.51"/><use href="#m2" x="202.59" y="211.43"/><use href="#m2" x="202.9" y="211.36"/><use href="#m2" x="203.25" y="211.27"/><use href="#m2" x="203.59" y="211.19"/><use href="#m2" x="203.92" y="211.11"/><use href="#m2" x="204.25" y="211.03"/><use href="#m2" x="204.57" y="210.95"/><use href="#m2" x="204.88" y="210.88"/><use href="#m2" x="205.19" y="210.81"/><use href="#m2" x="205.49" y="210.74"/><use href="#m2" x="205.82" y="210.67"/><use href="#m2" x="206.15" y="210.59"/><use href="#m2" x="206.48" y="210.52"/><use href="#m2" x="206.79" y="210.45"/><use href="#m2" x="207.1" y="210.39"/><use href="#m2" x="207.4" y="210.32"/><use href="#m2" x="207.74" y="210.25"/><use href="#m2" x="208.07" y="210.18"/><use href="#m2" x="208.39" y="210.11"/><use href="#m2" x="208.7" y="210.05"/><use href="#m2" x="209.01" y="209.98"/><use href="#m2" x="209.31" y="209.92"/><use href="#m2" x="209.63" y="209.86"/><use href="#m2" x="209.96" y="209.79"/><use href="#m2" x="210.27" y="209.73"/><use href="#m2" x="210.58" y="209.67"/><use href="#m2" x="210.88" y="209.61"/><use href="#m2" x="211.2" y="209.55"/><use href="#m2" x="211.52" y="209.49"/><use href="#m2" x="211.83" y="209.43"/><use href="#m2" x="212.14" y="209.37"/><use href="#m2" x="212.47" y="209.31"/><use href="#m2" x="212.79" y="209.26"/><use href="#m2" x="213.1" y="209.2"/><use href="#m2" x="213.41" y="209.15"/><use href="#m2" x="213.71" y="209.09"/><use href="#m2" x="214.03" y="209.04"/><use href="#m2" x="214.34" y="208.98"/><use href="#m2" x="214.64" y="208.93"/><use href="#m2" x="214.95" y="208.88"/><use href="#m2" x="215.26" y="208.83"/><use href="#m2" x="215.57" y="208.78"/><use href="#m2" x="215.88" y="208.73"/><use href="#m2" x="216.2" y="208.68"/><use href="#m2" x="216.51" y="208.63"/><use href="#m2" x="216.82" y="208.58"/><use href="#m2" x="217.12" y="208.53"/><use href="#m2" x="217.43" y="208.48"/><use href="#m2" x="217.74" y="208.43"/><use href="#m2" x="218.04" y="208.39"/><use href="#m2" x="218.35" y="208.34"/><use href="#m2" x="218.66" y="208.29"/><use href="#m2" x="218.96" y="208.25"/><use href="#m2" x="219.28" y="208.2"/><use href="#m2" x="219.58" y="208.16"/><use href="#m2" x="219.88" y="208.12"/><use href="#m2" x="220.19" y="208.07"/><use href="#m2" x="220.5" y="208.03"/><use href="#m2" x="220.81" y="207.98"/><use href="#m2" x="221.12" y="207.94"/><use href="#m2" x="221.42" y="207.9"/><use href="#m2" x="221.74" y="207.85"/><use href="#m2" x="222.04" y="207.81"/><use href="#m2" x="222.35" y="207.76"/><use href="#m2" x="222.66" y="207.72"/><use href="#m2" x="222.96" y="207.68"/><use href="#m2" x="223.27" y="207.63"/><use href="#m2" x="223.57" y="207.59"/><use href="#m2" x="223.88" y="207.55"/><use href="#m2" x="224.18" y="207.51"/><use href="#m2" x="224.49" y="207.46"/><use href="#m2" x="224.79" y="207.42"/><use href="#m2" x="225.1" y="207.38"/><use href="#m2" x="225.4" y="207.34"/><use href="#m2" x="225.71" y="207.3"/><use href="#m2" x="226.01" y="207.26"/><use href="#m2" x="226.32" y="207.22"/><use href="#m2" x="226.62" y="207.18"/><use href="#m2" x="226.92" y="207.15"/><use href="#m2" x="227.23" y="207.11"/><use href="#m2" x="227.54" y="207.07"/><use href="#m2" x="227.84" y="207.03"/><use href="#m2" x="228.14" y="207"/><use href="#m2" x="228.45" y="206.97"/><use href="#m2" x="228.76" y="206.93"/><use href="#m2" x="229.06" y="206.9"/><use href="#m2" x="229.36" y="206.87"/><use href="#m2" x="229.67" y="206.84"/><use href="#m2" x="229.97" y="206.81"/><use href="#m2" x="230.28" y="206.78"/><use href="#m2" x="230.58" y="206.75"/><use href="#m2" x="230.88" y="206.72"/><use href="#m2" x="231.19" y="206.7"/><use href="#m2" x="231.49" y="206.67"/><use href="#m2" x="231.8" y="206.65"/><use href="#m2" x="232.1" y="206.63"/><use href="#m2" x="232.4" y="206.61"/><use href="#m2" x="232.71" y="206.59"/><use href="#m2" x="233.01" y="206.57"/><use href="#m2" x="233.32" y="206.55"/><use href="#m2" x="233.62" y="206.53"/><use href="#m2" x="233.93" y="206.51"/><use href="#m2" x="234.23" y="206.49"/><use href="#m2" x="234.53" y="206.47"/><use href="#m2" x="234.83" y="206.45"/><use href="#m2" x="235.13" y="206.44"/><use href="#m2" x="235.43" y="206.42"/><use href="#m2" x="235.74" y="206.4"/><use href="#m2" x="236.04" y="206.39"/><use href="#m2" x="236.34" y="206.37"/><use href="#m2" x="236.64" y="206.35"/><use href="#m2" x="236.94" y="206.34"/><use href="#m2" x="237.25" y="206.32"/><use href="#m2" x="237.55" y="206.31"/><use href="#m2" x="237.85" y="206.3"/><use href="#m2" x="238.16" y="206.28"/><use href="#m2" x="238.46" y="206.27"/><use href="#m2" x="238.76" y="206.26"/><use href="#m2" x="239.06" y="206.25"/><use href="#m2" x="239.36" y="206.24"/></g>
<g fill="#fff" stroke="#00ff00" stroke-width="0.75"><use href="#m3" x="115.9" y="294.7"/><use href="#m3" x="126.46" y="293.79"/><use href="#m3" x="132.63" y="291.96"/><use href="#m3" x="137.02" y="290.79"/><use href="#m3" x="140.42" y="288.52"/><use href="#m3" x="143.2" y="285.33"/><use href="#m3" x="145.54" y="281.86"/><use href="#m3" x="147.58" y="279.02"/><use href="#m3" x="149.37" y="276.44"/><use href="#m3" x="150.98" y="273.97"/><use href="#m3" x="152.43" y="271.61"/><use href="#m3" x="153.76" y="269.45"/><use href="#m3" x="154.97" y="267.48"/><use href="#m3" x="156.1" y="265.59"/><use href="#m3" x="157.15" y="263.71"/><use href="#m3" x="158.14" y="261.8"/><use href="#m3" x="159.06" y="259.91"/><use href="#m3" x="159.93" y="258.14"/><use href="#m3" x="160.76" y="256.5"/><use href="#m3" x="161.54" y="254.95"/><use href="#m3" x="162.28" y="253.47"/><use href="#m3" x="162.99" y="252.05"/><use href="#m3" x="163.67" y="250.65"/><use href="#m3" x="164.32" y="249.26"/><use href="#m3" x="164.94" y="247.88"/><use href="#m3" x="165.53" y="246.56"/><use href="#m3" x="166.11" y="245.32"/><use href="#m3" x="166.66" y="244.16"/><use href="#m3" x="167.2" y="243.12"/><use href="#m3" x="167.71" y="242.14"/><use href="#m3" x="168.21" y="241.21"/><use href="#m3" x="168.7" y="240.34"/><use href="#m3" x="169.17" y="239.51"/><use href="#m3" x="169.62" y="238.73"/><use href="#m3" x="170.06" y="237.99"/><use href="#m3" x="170.49" y="237.3"/><use href="#m3" x="170.91" y="236.64"/><use href="#m3" x="171.32" y="236.02"/><use href="#m3" x="171.71" y="235.42"/><use href="#m3" x="172.1" y="234.86"/><use href="#m3" x="172.47" y="234.32"/><use href="#m3" x="172.84" y="233.8"/><use href="#m3" x="173.2" y="233.31"/><use href="#m3" x="173.55" y="232.84"/><use href="#m3" x="173.89" y="232.39"/><use href="#m3" x="174.23" y="231.96"/><use href="#m3" x="174.55" y="231.55"/><use href="#m3" x="174.88" y="231.15"/><use href="#m3" x="175.19" y="230.77"/><use href="#m3" x="175.5" y="230.4"/><use href="#m3" x="175.8" y="230.04"/><use href="#m3" x="176.39" y="229.34"/><use href="#m3" x="176.95" y="228.68"/><use href="#m3" x="177.49" y="228.06"/><use href="#m3" x="178.02" y="227.47"/><use href="#m3" x="178.53" y="226.91"/><use href="#m3" x="179.02" y="226.39"/><use href="#m3" x="179.49" y="225.89"/><use href="#m3" x="179.96" y="225.43"/><use href="#m3" x="180.4" y="225"/><use href="#m3" x="180.84" y="224.59"/><use href="#m3" x="181.26" y="224.22"/><use href="#m3" x="181.67" y="223.87"/><use href="#m3" x="182.08" y="223.54"/><use href="#m3" x="182.47" y="223.23"/><use href="#m3" x="182.85" y="222.93"/><use href="#m3" x="183.22" y="222.65"/><use href="#m3" x="183.58" y="222.37"/><use href="#m3" x="183.94" y="222.1"/><use href="#m3" x="184.28" y="221.85"/><use href="#m3" x="184.62" y="221.6"/><use href="#m3" x="184.95" y="221.36"/><use href="#m3" x="185.28" y="221.13"/><use href="#m3" x="185.59" y="220.9"/><use href="#m3" x="185.9" y="220.69"/><use href="#m3" x="186.21" y="220.48"/><use href="#m3" x="186.66" y="220.17"/><use href="#m3" x="187.09" y="219.89"/><use href="#m3" x="187.51" y="219.61"/><use href="#m3" x="187.92" y="219.35"/><use href="#m3" x="188.32" y="219.1"/><use href="#m3" x="188.71" y="218.86"/><use href="#m3" x="189.09" y="218.63"/><use href="#m3" x="189.46" y="218.41"/><use href="#m3" x="189.82" y="218.19"/><use href="#m3" x="190.17" y="217.99"/><use href="#m3" x="190.52" y="217.8"/><use href="#m3" x="190.85" y="217.61"/><use href="#m3" x="191.18" y="217.43"/><use href="#m3" x="191.51" y="217.26"/><use href="#m3" x="191.82" y="217.09"/><use href="#m3" x="192.13" y="216.93"/><use href="#m3" x="192.44" y="216.78"/><use href="#m3" x="192.83" y="216.58"/><use href="#m3" x="193.22" y="216.4"/><use href="#m3" x="193.59" y="216.22"/><use href="#m3" x="193.96" y="216.05"/><use href="#m3" x="194.32" y="215.89"/><use href="#m3" x="194.67" y="215.74"/><use href="#m3" x="195.01" y="215.59"/><use href="#m3" x="195.35" y="215.46"/><use href="#m3" x="195.68" y="215.32"/><use href="#m3" x="196" y="215.19"/><use href="#m3" x="196.31" y="215.07"/><use href="#m3" x="196.62" y="214.95"/><use href="#m3" x="196.92" y="214.83"/><use href="#m3" x="197.29" y="214.69"/><use href="#m3" x="197.65" y="214.56"/><use href="#m3" x="198" y="214.43"/><use href="#m3" x="198.34" y="214.31"/><use href="#m3" x="198.68" y="214.19"/><use href="#m3" x="199.01" y="214.07"/><use href="#m3" x="199.33" y="213.96"/><use href="#m3" x="199.65" y="213.86"/><use href="#m3" x="199.96" y="213.75"/><use href="#m3" x="200.26" y="213.65"/><use href="#m3" x="200.61" y="213.54"/><use href="#m3" x="200.96" y="213.43"/><use href="#m3" x="201.3" y="213.32"/><use href="#m3" x="201.63" y="213.22"/><use href="#m3" x="201.96" y="213.12"/><use href="#m3" x="202.28" y="213.02"/><use href="#m3" x="202.59" y="212.93"/><use href="#m3" x="202.9" y="212.84"/><use href="#m3" x="203.25" y="212.74"/><use href="#m3" x="203.59" y="212.64"/><use href="#m3" x="203.92" y="212.55"/><use href="#m3" x="204.25" y="212.46"/><use href="#m3" x="204.57" y="212.37"/><use href="#m3" x="204.88" y="212.28"/><use href="#m3" x="205.19" y="212.2"/><use href="#m3" x="205.49" y="212.12"/><use href="#m3" x="205.82" y="212.03"/><use href="#m3" x="206.15" y="211.95"/><use href="#m3" x="206.48" y="211.86"/><use href="#m3" x="206.79" y="211.78"/><use href="#m3" x="207.1" y="211.7"/><use href="#m3" x="207.4" y="211.62"/><use href="#m3" x="207.74" y="211.54"/><use href="#m3" x="208.07" y="211.46"/><use href="#m3" x="208.39" y="211.38"/><use href="#m3" x="208.7" y="211.3"/><use href="#m3" x="209.01" y="211.23"/><use href="#m3" x="209.31" y="211.16"/><use href="#m3" x="209.63" y="211.08"/><use href="#m3" x="209.96" y="211"/><use href="#m3" x="210.27" y="210.93"/><use href="#m3" x="210.58" y="210.86"/><use href="#m3" x="210.88" y="210.79"/><use href="#m3" x="211.2" y="210.72"/><use href="#m3" x="211.52" y="210.65"/><use href="#m3" x="211.83" y="210.58"/><use href="#m3" x="212.14" y="210.51"/><use href="#m3" x="212.47" y="210.44"/><use href="#m3" x="212.79" y="210.37"/><use href="#m3" x="213.1" y="210.31"/><use href="#m3" x="213.41" y="210.24"/><use href="#m3" x="213.71" y="210.18"/><use href="#m3" x="214.03" y="210.12"/><use href="#m3" x="214.34" y="210.05"/><use href="#m3" x="214.64" y="209.99"/><use href="#m3" x="214.95" y="209.93"/><use href="#m3" x="215.26" y="209.87"/><use href="#m3" x="215.57" y="209.81"/><use href="#m3" x="215.88" y="209.75"/><use href="#m3" x="216.2" y="209.69"/><use href="#m3" x="216.51" y="209.63"/><use href="#m3" x="216.82" y="209.57"/><use href="#m3" x="217.12" y="209.51"/><use href="#m3" x="217.43" y="209.45"/><use href="#m3" x="217.74" y="209.4"/><use href="#m3" x="218.04" y="209.34"/><use href="#m3" x="218.35" y="209.29"/><use href="#m3" x="218.66" y="209.23"/><use href="#m3" x="218.96" y="209.18"/><use href="#m3" x="219.28" y="209.12"/><use href="#m3" x="219.58" y="209.07"/><use href="#m3" x="219.88" y="209.02"/><use href="#m3" x="220.19" y="208.97"/><use href="#m3" x="220.5" y="208.91"/><use href="#m3" x="220.81" y="208.86"/><use href="#m3" x="221.12" y="208.81"/><use href="#m3" x="221.42" y="208.76"/><use href="#m3" x="221.74" y="208.71"/><use href="#m3" x="222.04" y="208.65"/><use href="#m3" x="222.35" y="208.6"/><use href="#m3" x="222.66" y="208.55"/><use href="#m3" x="222.96" y="208.5"/><use href="#m3" x="223.27" y="208.45"/><use href="#m3" x="223.57" y="208.4"/><use href="#m3" x="223.88" y="208.35"/><use href="#m3" x="224.18" y="208.3"/><use href="#m3" x="224.49" y="208.25"/><use href="#m3" x="224.79" y="208.2"/><use href="#m3" x="225.1" y="208.16"/><use href="#m3" x="225.4" y="208.11"/><use href="#m3" x="225.71" y="208.06"/><use href="#m3" x="226.01" y="208.02"/><use href="#m3" x="226.32" y="207.97"/><use href="#m3" x="226.62" y="207.92"/><use href="#m3" x="226.92" y="207.88"/><use href="#m3" x="227.23" y="207.83"/><use href="#m3" x="227.54" y="207.79"/><use href="#m3" x="227.84" y="207.75"/><use href="#m3" x="228.14" y="207.71"/><use href="#m3" x="228.45" y="207.67"/><use href="#m3" x="228.76" y="207.62"/><use href="#m3" x="229.06" y="207.58"/><use href="#m3" x="229.36" y="207.55"/><use href="#m3" x="229.67" y="207.51"/><use href="#m3" x="229.97" y="207.47"/><use href="#m3" x="230.28" y="207.43"/><use href="#m3" x="230.58" y="207.4"/><use href="#m3" x="230.88" y="207.37"/><use href="#m3" x="231.19" y="207.33"/><use href="#m3" x="231.49" y="207.3"/><use href="#m3" x="231.8" y="207.27"/><use href="#m3" x="232.1" y="207.24"/><use href="#m3" x="232.4" y="207.21"/><use href="#m3" x="232.71" y="207.18"/><use href="#m3" x="233.01" y="207.15"/><use href="#m3" x="233.32" y="207.13"/><use href="#m3" x="233.62" y="207.1"/><use href="#m3" x="233.93" y="207.07"/><use href="#m3" x="234.23" y="207.05"/><use href="#m3" x="234.53" y="207.02"/><use href="#m3" x="234.83" y="206.99"/><use href="#m3" x="235.13" y="206.97"/><use href="#m3" x="235.43" y="206.95"/><use href="#m3" x="235.74" y="206.92"/><use href="#m3" x="236.04" y="206.9"/><use href="#m3" x="236.34" y="206.88"/><use href="#m3" x="236.64" y="206.85"/><use href="#m3" x="236.94" y="206.83"/><use href="#m3" x="237.25" y="206.81"/><use href="#m3" x="237.55" y="206.79"/><use href="#m3" x="237.85" y="206.77"/><use href="#m3" x="238.16" y="206.75"/><use href="#m3" x="238.46" y="206.73"/><use href="#m3" x="238.76" y="206.71"/><use href="#m3" x="239.06" y="206.69"/><use href="#m3" x="239.36" y="206.68"/></g>
<g fill="#fff" stroke="#ff00ff" stroke-width="0.75"><use href="#m4" x="115.9" y="291.3"/><use href="#m4" x="126.46" y="290.8"/><use href="#m4" x="132.63" y="289.97"/><use href="#m4" x="137.02" y="288.29"/><use href="#m4" x="140.42" y="287.2"/><use href="#m4" x="143.2" y="286.27"/><use href="#m4" x="145.54" y="285.18"/><use href="#m4" x="147.58" y="283.46"/><use href="#m4" x="149.37" y="281.49"/><use href="#m4" x="150.98" y="279.2"/><use href="#m4" x="152.43" y="276.9"/><use href="#m4" x="153.76" y="274.56"/><use href="#m4" x="154.97" y="272.26"/><use href="#m4" x="156.1" y="270.23"/><use href="#m4" x="157.15" y="268.22"/><use href="#m4" x="158.14" y="265.86"/><use href="#m4" x="159.06" y="262.4"/><use href="#m4" x="159.93" y="258.03"/><use href="#m4" x="160.76" y="254.39"/><use href="#m4" x="161.54" y="251.42"/><use href="#m4" x="162.28" y="248.8"/><use href="#m4" x="162.99" y="246.6"/><use href="#m4" x="163.67" y="244.85"/><use href="#m4" x="164.32" y="243.34"/><use href="#m4" x="164.94" y="242.01"/><use href="#m4" x="165.53" y="240.82"/><use href="#m4" x="166.11" y="239.74"/><use href="#m4" x="166.66" y="238.75"/><use href="#m4" x="167.2" y="237.85"/><use href="#m4" x="167.71" y="237"/><use href="#m4" x="168.21" y="236.21"/><use href="#m4" x="168.7" y="235.46"/><use href="#m4" x="169.17" y="234.75"/><use href="#m4" x="169.62" y="234.06"/><use href="#m4" x="170.06" y="233.42"/><use href="#m4" x="170.49" y="232.81"/><use href="#m4" x="170.91" y="232.22"/><use href="#m4" x="171.32" y="231.67"/><use href="#m4" x="171.71" y="231.14"/><use href="#m4" x="172.1" y="230.64"/><use href="#m4" x="172.47" y="230.17"/><use href="#m4" x="172.84" y="229.71"/><use href="#m4" x="173.2" y="229.28"/><use href="#m4" x="173.55" y="228.88"/><use href="#m4" x="173.89" y="228.49"/><use href="#m4" x="174.23" y="228.12"/><use href="#m4" x="174.55" y="227.76"/><use href="#m4" x="174.88" y="227.43"/><use href="#m4" x="175.19" y="227.11"/><use href="#m4" x="175.5" y="226.8"/><use href="#m4" x="175.8" y="226.5"/><use href="#m4" x="176.39" y="225.92"/><use href="#m4" x="176.95" y="225.38"/><use href="#m4" x="177.49" y="224.87"/><use href="#m4" x="178.02" y="224.39"/><use href="#m4" x="178.53" y="223.93"/><use href="#m4" x="179.02" y="223.5"/><use href="#m4" x="179.49" y="223.1"/><use href="#m4" x="179.96" y="222.71"/><use href="#m4" x="180.4" y="222.35"/><use href="#m4" x="180.84" y="222"/><use href="#m4" x="181.26" y="221.68"/><use href="#m4" x="181.67" y="221.37"/><use href="#m4" x="182.08" y="221.08"/><use href="#m4" x="182.47" y="220.8"/><use href="#m4" x="182.85" y="220.54"/><use href="#m4" x="183.22" y="220.29"/><use href="#m4" x="183.58" y="220.06"/><use href="#m4" x="183.94" y="219.84"/><use href="#m4" x="184.28" y="219.63"/><use href="#m4" x="184.62" y="219.43"/><use href="#m4" x="184.95" y="219.24"/><use href="#m4" x="185.28" y="219.06"/><use href="#m4" x="185.59" y="218.88"/><use href="#m4" x="185.9" y="218.71"/><use href="#m4" x="186.21" y="218.55"/><use href="#m4" x="186.66" y="218.31"/><use href="#m4" x="187.09" y="218.09"/><use href="#m4" x="187.51" y="217.87"/><use href="#m4" x="187.92" y="217.67"/><use href="#m4" x="188.32" y="217.48"/><use href="#m4" x="188.71" y="217.29"/><use href="#m4" x="189.09" y="217.12"/><use href="#m4" x="189.46" y="216.95"/><use href="#m4" x="189.82" y="216.79"/><use href="#m4" x="190.17" y="216.63"/><use href="#m4" x="190.52" y="216.48"/><use href="#m4" x="190.85" y="216.34"/><use href="#m4" x="191.18" y="216.2"/><use href="#m4" x="191.51" y="216.07"/><use href="#m4" x="191.82" y="215.95"/><use href="#m4" x="192.13" y="215.83"/><use href="#m4" x="192.44" y="215.71"/><use href="#m4" x="192.83" y="215.56"/><use href="#m4" x="193.22" y="215.42"/><use href="#m4" x="193.59" y="215.28"/><use href="#m4" x="193.96" y="215.15"/><use href="#m4" x="194.32" y="215.03"/><use href="#m4" x="194.67" y="214.91"/><use href="#m4" x="195.01" y="214.8"/><use href="#m4" x="195.35" y="214.69"/><use href="#m4" x="195.68" y="214.58"/><use href="#m4" x="196" y="214.48"/><use href="#m4" x="196.31" y="214.38"/><use href="#m4" x="196.62" y="214.29"/><use href="#m4" x="196.92" y="214.2"/><use href="#m4" x="197.29" y="214.09"/><use href="#m4" x="197.65" y="213.99"/><use href="#m4" x="198" y="213.89"/><use href="#m4" x="198.34" y="213.79"/><use href="#m4" x="198.68" y="213.7"/><use href="#m4" x="199.01" y="213.61"/><use href="#m4" x="199.33" y="213.53"/><use href="#m4" x="199.65" y="213.44"/><use href="#m4" x="199.96" y="213.36"/><use href="#m4" x="200.26" y="213.29"/><use href="#m4" x="200.61" y="213.2"/><use href="#m4" x="200.96" y="213.11"/><use href="#m4" x="201.3" y="213.03"/><use href="#m4" x="201.63" y="212.94"/><use href="#m4" x="201.96" y="212.87"/><use href="#m4" x="202.28" y="212.79"/><use href="#m4" x="202.59" y="212.72"/><use href="#m4" x="202.9" y="212.64"/><use href="#m4" x="203.25" y="212.56"/><use href="#m4" x="203.59" y="212.48"/><use href="#m4" x="203.92" y="212.41"/><use href="#m4" x="204.25" y="212.33"/><use href="#m4" x="204.57" y="212.26"/><use href="#m4" x="204.88" y="212.19"/><use href="#m4" x="205.19" y="212.12"/><use href="#m4" x="205.49" y="212.05"/><use href="#m4" x="205.82" y="211.98"/><use href="#m4" x="206.15" y="211.9"/><use href="#m4" x="206.48" y="211.83"/><use href="#m4" x="206.79" y="211.76"/><use href="#m4" x="207.1" y="211.69"/><use href="#m4" x="207.4" y="211.62"/><use href="#m4" x="207.74" y="211.55"/><use href="#m4" x="208.07" y="211.47"/><use href="#m4" x="208.39" y="211.4"/><use href="#m4" x="208.7" y="211.33"/><use href="#m4" x="209.01" y="211.26"/><use href="#m4" x="209.31" y="211.2"/><use href="#m4" x="209.63" y="211.13"/><use href="#m4" x="209.96" y="211.06"/><use href="#m4" x="210.27" y="210.99"/><use href="#m4" x="210.58" y="210.92"/><use href="#m4" x="210.88" y="210.86"/><use href="#m4" x="211.2" y="210.79"/><use href="#m4" x="211.52" y="210.72"/><use href="#m4" x="211.83" y="210.66"/><use href="#m4" x="212.14" y="210.59"/><use href="#m4" x="212.47" y="210.52"/><use href="#m4" x="212.79" y="210.46"/><use href="#m4" x="213.1" y="210.39"/><use href="#m4" x="213.41" y="210.33"/><use href="#m4" x="213.71" y="210.27"/><use href="#m4" x="214.03" y="210.21"/><use href="#m4" x="214.34" y="210.14"/><use href="#m4" x="214.64" y="210.08"/><use href="#m4" x="214.95" y="210.02"/><use href="#m4" x="215.26" y="209.96"/><use href="#m4" x="215.57" y="209.9"/><use href="#m4" x="215.88" y="209.84"/><use href="#m4" x="216.2" y="209.78"/><use href="#m4" x="216.51" y="209.72"/><use href="#m4" x="216.82" y="209.66"/><use href="#m4" x="217.12" y="209.61"/><use href="#m4" x="217.43" y="209.55"/><use href="#m4" x="217.74" y="209.49"/><use href="#m4" x="218.04" y="209.44"/><use href="#m4" x="218.35" y="209.38"/><use href="#m4" x="218.66" y="209.33"/><use href="#m4" x="218.96" y="209.28"/><use href="#m4" x="219.28" y="209.22"/><use href="#m4" x="219.58" y="209.17"/><use href="#m4" x="219.88" y="209.12"/><use href="#m4" x="220.19" y="209.07"/><use href="#m4" x="220.5" y="209.02"/><use href="#m4" x="220.81" y="208.96"/><use href="#m4" x="221.12" y="208.91"/><use href="#m4" x="221.42" y="208.86"/><use href="#m4" x="221.74" y="208.81"/><use href="#m4" x="222.04" y="208.76"/><use href="#m4" x="222.35" y="208.71"/><use href="#m4" x="222.66" y="208.66"/><use href="#m4" x="222.96" y="208.61"/><use href="#m4" x="223.27" y="208.56"/><use href="#m4" x="223.57" y="208.51"/><use href="#m4" x="223.88" y="208.46"/><use href="#m4" x="224.18" y="208.42"/><use href="#m4" x="224.49" y="208.37"/><use href="#m4" x="224.79" y="208.32"/><use href="#m4" x="225.1" y="208.27"/><use href="#m4" x="225.4" y="208.23"/><use href="#m4" x="225.71" y="208.18"/><use href="#m4" x="226.01" y="208.13"/><use href="#m4" x="226.32" y="208.09"/><use href="#m4" x="226.62" y="208.04"/><use href="#m4" x="226.92" y="208"/><use href="#m4" x="227.23" y="207.96"/><use href="#m4" x="227.54" y="207.91"/><use href="#m4" x="227.84" y="207.87"/><use href="#m4" x="228.14" y="207.83"/><use href="#m4" x="228.45" y="207.79"/><use href="#m4" x="228.76" y="207.75"/><use href="#m4" x="229.06" y="207.71"/><use href="#m4" x="229.36" y="207.67"/><use href="#m4" x="229.67" y="207.63"/><use href="#m4" x="229.97" y="207.59"/><use href="#m4" x="230.28" y="207.55"/><use href="#m4" x="230.58" y="207.51"/><use href="#m4" x="230.88" y="207.48"/><use href="#m4" x="231.19" y="207.44"/><use href="#m4" x="231.49" y="207.41"/><use href="#m4" x="231.8" y="207.37"/><use href="#m4" x="232.1" y="207.34"/><use href="#m4" x="232.4" y="207.31"/><use href="#m4" x="232.71" y="207.28"/><use href="#m4" x="233.01" y="207.25"/><use href="#m4" x="233.32" y="207.22"/><use href="#m4" x="233.62" y="207.19"/><use href="#m4" x="233.93" y="207.16"/><use href="#m4" x="234.23" y="207.13"/><use href="#m4" x="234.53" y="207.1"/><use href="#m4" x="234.83" y="207.07"/><use href="#m4" x="235.13" y="207.04"/><use href="#m4" x="235.43" y="207.02"/><use href="#m4" x="235.74" y="206.99"/><use href="#m4" x="236.04" y="206.96"/><use href="#m4" x="236.34" y="206.94"/><use href="#m4" x="236.64" y="206.91"/><use href="#m4" x="236.94" y="206.89"/><use href="#m4" x="237.25" y="206.86"/><use href="#m4" x="237.55" y="206.84"/><use href="#m4" x="237.85" y="206.81"/><use href="#m4" x="238.16" y="206.79"/><use href="#m4" x="238.46" y="206.77"/><use href="#m4" x="238.76" y="206.75"/><use href="#m4" x="239.06" y="206.72"/><use href="#m4" x="239.36" y="206.7"/></g>
<rect x="309.7" y="194" width="175.8" height="125.7" fill="none" stroke="#7c7c7c" stroke-width="0.85"/>
<path d="M344.86 319.7 v-3.3 M344.86 194 v3.3 M380.02 319.7 v-3.3 M380.02 194 v3.3 M415.18 319.7 v-3.3 M415.18 194 v3.3 M450.34 319.7 v-3.3 M450.34 194 v3.3 M309.7 235.9 h3.3 M485.5 235.9 h-3.3 M309.7 277.8 h3.3 M485.5 277.8 h-3.3 " stroke="#222" stroke-width="1.25" fill="none"/>
<path d="M320.28 319.7 v-2.1 M320.28 194 v2.1 M326.48 319.7 v-2.1 M326.48 194 v2.1 M330.87 319.7 v-2.1 M330.87 194 v2.1 M334.28 319.7 v-2.1 M334.28 194 v2.1 M337.06 319.7 v-2.1 M337.06 194 v2.1 M339.41 319.7 v-2.1 M339.41 194 v2.1 M341.45 319.7 v-2.1 M341.45 194 v2.1 M343.25 319.7 v-2.1 M343.25 194 v2.1 M355.44 319.7 v-2.1 M355.44 194 v2.1 M361.64 319.7 v-2.1 M361.64 194 v2.1 M366.03 319.7 v-2.1 M366.03 194 v2.1 M369.44 319.7 v-2.1 M369.44 194 v2.1 M372.22 319.7 v-2.1 M372.22 194 v2.1 M374.57 319.7 v-2.1 M374.57 194 v2.1 M376.61 319.7 v-2.1 M376.61 194 v2.1 M378.41 319.7 v-2.1 M378.41 194 v2.1 M390.6 319.7 v-2.1 M390.6 194 v2.1 M396.8 319.7 v-2.1 M396.8 194 v2.1 M401.19 319.7 v-2.1 M401.19 194 v2.1 M404.6 319.7 v-2.1 M404.6 194 v2.1 M407.38 319.7 v-2.1 M407.38 194 v2.1 M409.73 319.7 v-2.1 M409.73 194 v2.1 M411.77 319.7 v-2.1 M411.77 194 v2.1 M413.57 319.7 v-2.1 M413.57 194 v2.1 M425.76 319.7 v-2.1 M425.76 194 v2.1 M431.96 319.7 v-2.1 M431.96 194 v2.1 M436.35 319.7 v-2.1 M436.35 194 v2.1 M439.76 319.7 v-2.1 M439.76 194 v2.1 M442.54 319.7 v-2.1 M442.54 194 v2.1 M444.89 319.7 v-2.1 M444.89 194 v2.1 M446.93 319.7 v-2.1 M446.93 194 v2.1 M448.73 319.7 v-2.1 M448.73 194 v2.1 M460.92 319.7 v-2.1 M460.92 194 v2.1 M467.12 319.7 v-2.1 M467.12 194 v2.1 M471.51 319.7 v-2.1 M471.51 194 v2.1 M474.92 319.7 v-2.1 M474.92 194 v2.1 M477.7 319.7 v-2.1 M477.7 194 v2.1 M480.05 319.7 v-2.1 M480.05 194 v2.1 M482.09 319.7 v-2.1 M482.09 194 v2.1 M483.89 319.7 v-2.1 M483.89 194 v2.1 M309.7 223.29 h2.1 M485.5 223.29 h-2.1 M309.7 215.91 h2.1 M485.5 215.91 h-2.1 M309.7 210.67 h2.1 M485.5 210.67 h-2.1 M309.7 206.61 h2.1 M485.5 206.61 h-2.1 M309.7 203.3 h2.1 M485.5 203.3 h-2.1 M309.7 200.49 h2.1 M485.5 200.49 h-2.1 M309.7 198.06 h2.1 M485.5 198.06 h-2.1 M309.7 195.92 h2.1 M485.5 195.92 h-2.1 M309.7 265.19 h2.1 M485.5 265.19 h-2.1 M309.7 257.81 h2.1 M485.5 257.81 h-2.1 M309.7 252.57 h2.1 M485.5 252.57 h-2.1 M309.7 248.51 h2.1 M485.5 248.51 h-2.1 M309.7 245.2 h2.1 M485.5 245.2 h-2.1 M309.7 242.39 h2.1 M485.5 242.39 h-2.1 M309.7 239.96 h2.1 M485.5 239.96 h-2.1 M309.7 237.82 h2.1 M485.5 237.82 h-2.1 M309.7 307.09 h2.1 M485.5 307.09 h-2.1 M309.7 299.71 h2.1 M485.5 299.71 h-2.1 M309.7 294.47 h2.1 M485.5 294.47 h-2.1 M309.7 290.41 h2.1 M485.5 290.41 h-2.1 M309.7 287.1 h2.1 M485.5 287.1 h-2.1 M309.7 284.29 h2.1 M485.5 284.29 h-2.1 M309.7 281.86 h2.1 M485.5 281.86 h-2.1 M309.7 279.72 h2.1 M485.5 279.72 h-2.1 " stroke="#555" stroke-width="0.7" fill="none"/>
<g fill="#000000"><use href="#m5" x="337.66" y="273.25"/><use href="#m5" x="348.24" y="271.65"/><use href="#m5" x="354.44" y="269.91"/><use href="#m5" x="358.83" y="267.7"/><use href="#m5" x="362.24" y="265.98"/><use href="#m5" x="365.02" y="264.45"/><use href="#m5" x="367.37" y="262.76"/><use href="#m5" x="369.41" y="260.76"/><use href="#m5" x="371.21" y="258.62"/><use href="#m5" x="372.82" y="256.47"/><use href="#m5" x="374.28" y="254.29"/><use href="#m5" x="375.6" y="251.92"/><use href="#m5" x="376.83" y="249.56"/><use href="#m5" x="377.96" y="247.35"/><use href="#m5" x="379.01" y="245.32"/><use href="#m5" x="380" y="243.36"/><use href="#m5" x="380.92" y="241.52"/><use href="#m5" x="381.8" y="239.82"/><use href="#m5" x="382.62" y="238.17"/><use href="#m5" x="383.4" y="236.56"/><use href="#m5" x="384.15" y="235.07"/><use href="#m5" x="384.86" y="233.76"/><use href="#m5" x="385.54" y="232.65"/><use href="#m5" x="386.19" y="231.75"/><use href="#m5" x="386.81" y="230.91"/><use href="#m5" x="387.41" y="230.11"/><use href="#m5" x="387.99" y="229.42"/><use href="#m5" x="388.54" y="228.9"/><use href="#m5" x="389.08" y="228.58"/><use href="#m5" x="389.6" y="228.5"/><use href="#m5" x="390.1" y="228.51"/><use href="#m5" x="390.58" y="228.52"/><use href="#m5" x="391.05" y="228.54"/><use href="#m5" x="391.51" y="228.57"/><use href="#m5" x="392.38" y="228.63"/><use href="#m5" x="393.2" y="228.69"/><use href="#m5" x="393.99" y="228.76"/><use href="#m5" x="394.73" y="228.82"/><use href="#m5" x="395.44" y="228.88"/><use href="#m5" x="396.12" y="228.92"/><use href="#m5" x="396.77" y="228.96"/><use href="#m5" x="397.4" y="228.99"/><use href="#m5" x="397.99" y="229"/><use href="#m5" x="398.57" y="228.99"/><use href="#m5" x="399.13" y="228.95"/><use href="#m5" x="399.66" y="228.86"/><use href="#m5" x="400.18" y="228.74"/><use href="#m5" x="400.68" y="228.6"/><use href="#m5" x="401.17" y="228.43"/><use href="#m5" x="401.63" y="228.25"/><use href="#m5" x="402.09" y="228.05"/><use href="#m5" x="402.75" y="227.74"/><use href="#m5" x="403.38" y="227.41"/><use href="#m5" x="403.99" y="227.08"/><use href="#m5" x="404.57" y="226.75"/><use href="#m5" x="405.13" y="226.42"/><use href="#m5" x="405.68" y="226.1"/><use href="#m5" x="406.2" y="225.79"/><use href="#m5" x="406.71" y="225.49"/><use href="#m5" x="407.2" y="225.21"/><use href="#m5" x="407.67" y="224.94"/><use href="#m5" x="408.13" y="224.69"/><use href="#m5" x="408.72" y="224.37"/><use href="#m5" x="409.3" y="224.05"/><use href="#m5" x="409.85" y="223.72"/><use href="#m5" x="410.38" y="223.39"/><use href="#m5" x="410.89" y="223.06"/><use href="#m5" x="411.39" y="222.74"/><use href="#m5" x="411.87" y="222.42"/><use href="#m5" x="412.33" y="222.11"/><use href="#m5" x="412.79" y="221.81"/><use href="#m5" x="413.33" y="221.45"/><use href="#m5" x="413.86" y="221.11"/><use href="#m5" x="414.37" y="220.78"/><use href="#m5" x="414.87" y="220.48"/><use href="#m5" x="415.35" y="220.19"/><use href="#m5" x="415.81" y="219.91"/><use href="#m5" x="416.26" y="219.64"/><use href="#m5" x="416.78" y="219.33"/><use href="#m5" x="417.29" y="219.02"/><use href="#m5" x="417.78" y="218.73"/><use href="#m5" x="418.26" y="218.44"/><use href="#m5" x="418.72" y="218.17"/><use href="#m5" x="419.24" y="217.86"/><use href="#m5" x="419.74" y="217.56"/><use href="#m5" x="420.23" y="217.27"/><use href="#m5" x="420.7" y="216.99"/><use href="#m5" x="421.16" y="216.73"/><use href="#m5" x="421.66" y="216.43"/><use href="#m5" x="422.15" y="216.15"/><use href="#m5" x="422.63" y="215.88"/><use href="#m5" x="423.09" y="215.62"/><use href="#m5" x="423.59" y="215.34"/><use href="#m5" x="424.08" y="215.07"/><use href="#m5" x="424.55" y="214.82"/><use href="#m5" x="425.01" y="214.57"/><use href="#m5" x="425.5" y="214.31"/><use href="#m5" x="425.98" y="214.06"/><use href="#m5" x="426.44" y="213.83"/><use href="#m5" x="426.93" y="213.58"/><use href="#m5" x="427.41" y="213.34"/><use href="#m5" x="427.88" y="213.12"/><use href="#m5" x="428.36" y="212.89"/><use href="#m5" x="428.84" y="212.66"/><use href="#m5" x="429.3" y="212.45"/><use href="#m5" x="429.78" y="212.23"/><use href="#m5" x="430.25" y="212.01"/><use href="#m5" x="430.71" y="211.81"/><use href="#m5" x="431.18" y="211.6"/><use href="#m5" x="431.64" y="211.4"/><use href="#m5" x="432.12" y="211.19"/><use href="#m5" x="432.59" y="210.99"/><use href="#m5" x="433.04" y="210.8"/><use href="#m5" x="433.5" y="210.6"/><use href="#m5" x="433.96" y="210.41"/><use href="#m5" x="434.42" y="210.22"/><use href="#m5" x="434.87" y="210.03"/><use href="#m5" x="435.34" y="209.84"/><use href="#m5" x="435.79" y="209.66"/><use href="#m5" x="436.25" y="209.47"/><use href="#m5" x="436.73" y="209.29"/><use href="#m5" x="437.18" y="209.1"/><use href="#m5" x="437.65" y="208.92"/><use href="#m5" x="438.1" y="208.74"/><use href="#m5" x="438.56" y="208.56"/><use href="#m5" x="439.03" y="208.38"/><use href="#m5" x="439.48" y="208.2"/><use href="#m5" x="439.94" y="208.02"/><use href="#m5" x="440.4" y="207.84"/><use href="#m5" x="440.87" y="207.66"/><use href="#m5" x="441.33" y="207.49"/><use href="#m5" x="441.78" y="207.31"/><use href="#m5" x="442.24" y="207.14"/><use href="#m5" x="442.71" y="206.96"/><use href="#m5" x="443.17" y="206.79"/><use href="#m5" x="443.62" y="206.62"/><use href="#m5" x="444.07" y="206.45"/><use href="#m5" x="444.53" y="206.28"/><use href="#m5" x="444.98" y="206.12"/><use href="#m5" x="445.43" y="205.95"/><use href="#m5" x="445.89" y="205.79"/><use href="#m5" x="446.34" y="205.62"/><use href="#m5" x="446.79" y="205.46"/><use href="#m5" x="447.24" y="205.3"/><use href="#m5" x="447.7" y="205.13"/><use href="#m5" x="448.16" y="204.97"/><use href="#m5" x="448.61" y="204.81"/><use href="#m5" x="449.06" y="204.65"/><use href="#m5" x="449.52" y="204.5"/><use href="#m5" x="449.98" y="204.34"/><use href="#m5" x="450.43" y="204.18"/><use href="#m5" x="450.89" y="204.03"/><use href="#m5" x="451.34" y="203.88"/><use href="#m5" x="451.8" y="203.72"/><use href="#m5" x="452.25" y="203.57"/><use href="#m5" x="452.71" y="203.42"/><use href="#m5" x="453.16" y="203.27"/><use href="#m5" x="453.61" y="203.13"/><use href="#m5" x="454.06" y="203"/><use href="#m5" x="454.52" y="203"/></g>
<g fill="#ff0000"><use href="#m6" x="337.66" y="283.54"/><use href="#m6" x="348.24" y="280.73"/><use href="#m6" x="354.44" y="278.6"/><use href="#m6" x="358.83" y="276.04"/><use href="#m6" x="362.24" y="273.72"/><use href="#m6" x="365.02" y="271.53"/><use href="#m6" x="367.37" y="269.33"/><use href="#m6" x="369.41" y="266.99"/><use href="#m6" x="371.21" y="264.65"/><use href="#m6" x="372.82" y="262.39"/><use href="#m6" x="374.28" y="260.23"/><use href="#m6" x="375.6" y="258.07"/><use href="#m6" x="376.83" y="255.95"/><use href="#m6" x="377.96" y="253.92"/><use href="#m6" x="379.01" y="252.03"/><use href="#m6" x="380" y="250.27"/><use href="#m6" x="380.92" y="248.51"/><use href="#m6" x="381.8" y="246.68"/><use href="#m6" x="382.62" y="244.68"/><use href="#m6" x="383.4" y="242.19"/><use href="#m6" x="384.15" y="239.38"/><use href="#m6" x="384.86" y="236.66"/><use href="#m6" x="385.54" y="234.31"/><use href="#m6" x="386.19" y="232.52"/><use href="#m6" x="386.81" y="230.84"/><use href="#m6" x="387.41" y="229.28"/><use href="#m6" x="387.99" y="228.02"/><use href="#m6" x="388.54" y="227.23"/><use href="#m6" x="389.08" y="227"/><use href="#m6" x="389.6" y="227.01"/><use href="#m6" x="390.1" y="227.02"/><use href="#m6" x="390.58" y="227.05"/><use href="#m6" x="391.05" y="227.07"/><use href="#m6" x="391.51" y="227.11"/><use href="#m6" x="392.38" y="227.18"/><use href="#m6" x="393.2" y="227.26"/><use href="#m6" x="393.99" y="227.33"/><use href="#m6" x="394.73" y="227.4"/><use href="#m6" x="395.44" y="227.46"/><use href="#m6" x="396.12" y="227.52"/><use href="#m6" x="396.77" y="227.56"/><use href="#m6" x="397.4" y="227.58"/><use href="#m6" x="397.99" y="227.6"/><use href="#m6" x="398.57" y="227.59"/><use href="#m6" x="399.13" y="227.55"/><use href="#m6" x="399.66" y="227.46"/><use href="#m6" x="400.18" y="227.34"/><use href="#m6" x="400.68" y="227.19"/><use href="#m6" x="401.17" y="227.02"/><use href="#m6" x="401.63" y="226.83"/><use href="#m6" x="402.09" y="226.63"/><use href="#m6" x="402.75" y="226.31"/><use href="#m6" x="403.38" y="225.97"/><use href="#m6" x="403.99" y="225.63"/><use href="#m6" x="404.57" y="225.29"/><use href="#m6" x="405.13" y="224.96"/><use href="#m6" x="405.68" y="224.63"/><use href="#m6" x="406.2" y="224.31"/><use href="#m6" x="406.71" y="224.01"/><use href="#m6" x="407.2" y="223.72"/><use href="#m6" x="407.67" y="223.45"/><use href="#m6" x="408.13" y="223.19"/><use href="#m6" x="408.72" y="222.87"/><use href="#m6" x="409.3" y="222.53"/><use href="#m6" x="409.85" y="222.19"/><use href="#m6" x="410.38" y="221.85"/><use href="#m6" x="410.89" y="221.51"/><use href="#m6" x="411.39" y="221.18"/><use href="#m6" x="411.87" y="220.85"/><use href="#m6" x="412.33" y="220.53"/><use href="#m6" x="412.79" y="220.22"/><use href="#m6" x="413.33" y="219.86"/><use href="#m6" x="413.86" y="219.51"/><use href="#m6" x="414.37" y="219.18"/><use href="#m6" x="414.87" y="218.88"/><use href="#m6" x="415.35" y="218.59"/><use href="#m6" x="415.81" y="218.32"/><use href="#m6" x="416.26" y="218.06"/><use href="#m6" x="416.78" y="217.75"/><use href="#m6" x="417.29" y="217.45"/><use href="#m6" x="417.78" y="217.17"/><use href="#m6" x="418.26" y="216.9"/><use href="#m6" x="418.72" y="216.63"/><use href="#m6" x="419.24" y="216.34"/><use href="#m6" x="419.74" y="216.06"/><use href="#m6" x="420.23" y="215.78"/><use href="#m6" x="420.7" y="215.52"/><use href="#m6" x="421.16" y="215.27"/><use href="#m6" x="421.66" y="214.99"/><use href="#m6" x="422.15" y="214.73"/><use href="#m6" x="422.63" y="214.47"/><use href="#m6" x="423.09" y="214.22"/><use href="#m6" x="423.59" y="213.96"/><use href="#m6" x="424.08" y="213.71"/><use href="#m6" x="424.55" y="213.46"/><use href="#m6" x="425.01" y="213.23"/><use href="#m6" x="425.5" y="212.98"/><use href="#m6" x="425.98" y="212.74"/><use href="#m6" x="426.44" y="212.51"/><use href="#m6" x="426.93" y="212.27"/><use href="#m6" x="427.41" y="212.04"/><use href="#m6" x="427.88" y="211.82"/><use href="#m6" x="428.36" y="211.59"/><use href="#m6" x="428.84" y="211.37"/><use href="#m6" x="429.3" y="211.16"/><use href="#m6" x="429.78" y="210.93"/><use href="#m6" x="430.25" y="210.72"/><use href="#m6" x="430.71" y="210.52"/><use href="#m6" x="431.18" y="210.3"/><use href="#m6" x="431.64" y="210.1"/><use href="#m6" x="432.12" y="209.89"/><use href="#m6" x="432.59" y="209.69"/><use href="#m6" x="433.04" y="209.5"/><use href="#m6" x="433.5" y="209.3"/><use href="#m6" x="433.96" y="209.1"/><use href="#m6" x="434.42" y="208.91"/><use href="#m6" x="434.87" y="208.72"/><use href="#m6" x="435.34" y="208.53"/><use href="#m6" x="435.79" y="208.34"/><use href="#m6" x="436.25" y="208.16"/><use href="#m6" x="436.73" y="207.97"/><use href="#m6" x="437.18" y="207.79"/><use href="#m6" x="437.65" y="207.6"/><use href="#m6" x="438.1" y="207.42"/><use href="#m6" x="438.56" y="207.25"/><use href="#m6" x="439.03" y="207.07"/><use href="#m6" x="439.48" y="206.9"/><use href="#m6" x="439.94" y="206.72"/><use href="#m6" x="440.4" y="206.55"/><use href="#m6" x="440.87" y="206.37"/><use href="#m6" x="441.33" y="206.2"/><use href="#m6" x="441.78" y="206.03"/><use href="#m6" x="442.24" y="205.86"/><use href="#m6" x="442.71" y="205.69"/><use href="#m6" x="443.17" y="205.52"/><use href="#m6" x="443.62" y="205.36"/><use href="#m6" x="444.07" y="205.19"/><use href="#m6" x="444.53" y="205.03"/><use href="#m6" x="444.98" y="204.87"/><use href="#m6" x="445.43" y="204.71"/><use href="#m6" x="445.89" y="204.55"/><use href="#m6" x="446.34" y="204.4"/><use href="#m6" x="446.79" y="204.24"/><use href="#m6" x="447.24" y="204.09"/><use href="#m6" x="447.7" y="203.94"/><use href="#m6" x="448.16" y="203.79"/><use href="#m6" x="448.61" y="203.64"/><use href="#m6" x="449.06" y="203.5"/><use href="#m6" x="449.52" y="203.35"/><use href="#m6" x="449.98" y="203.21"/><use href="#m6" x="450.43" y="203.08"/><use href="#m6" x="450.89" y="202.95"/><use href="#m6" x="451.34" y="202.82"/><use href="#m6" x="451.8" y="202.69"/><use href="#m6" x="452.25" y="202.57"/><use href="#m6" x="452.71" y="202.45"/><use href="#m6" x="453.16" y="202.33"/><use href="#m6" x="453.61" y="202.21"/><use href="#m6" x="454.06" y="202.1"/><use href="#m6" x="454.52" y="201.98"/><use href="#m6" x="454.98" y="201.87"/><use href="#m6" x="455.43" y="201.76"/><use href="#m6" x="455.88" y="201.65"/><use href="#m6" x="456.33" y="201.55"/><use href="#m6" x="456.78" y="201.44"/><use href="#m6" x="457.23" y="201.34"/><use href="#m6" x="457.69" y="201.23"/><use href="#m6" x="458.14" y="201.14"/><use href="#m6" x="458.59" y="201.04"/><use href="#m6" x="459.05" y="200.94"/><use href="#m6" x="459.5" y="200.85"/><use href="#m6" x="459.95" y="200.76"/><use href="#m6" x="460.4" y="200.67"/><use href="#m6" x="460.85" y="200.58"/><use href="#m6" x="461.31" y="200.5"/></g>
<g fill="#0000ff"><use href="#m7" x="337.66" y="303.74"/><use href="#m7" x="348.24" y="302.45"/><use href="#m7" x="354.44" y="300.03"/><use href="#m7" x="358.83" y="298.15"/><use href="#m7" x="362.24" y="297.06"/><use href="#m7" x="365.02" y="295.99"/><use href="#m7" x="367.37" y="294"/><use href="#m7" x="369.41" y="291.66"/><use href="#m7" x="371.21" y="289.71"/><use href="#m7" x="372.82" y="287.94"/><use href="#m7" x="374.28" y="286.08"/><use href="#m7" x="375.6" y="283.96"/><use href="#m7" x="376.83" y="281.42"/><use href="#m7" x="377.96" y="278.68"/><use href="#m7" x="379.01" y="275.94"/><use href="#m7" x="380" y="273.31"/><use href="#m7" x="380.92" y="270.91"/><use href="#m7" x="381.8" y="268.54"/><use href="#m7" x="382.62" y="265.92"/><use href="#m7" x="383.4" y="262.83"/><use href="#m7" x="384.15" y="257.98"/><use href="#m7" x="384.86" y="252.23"/><use href="#m7" x="385.54" y="247.29"/><use href="#m7" x="386.19" y="244.33"/><use href="#m7" x="386.81" y="242.16"/><use href="#m7" x="387.41" y="240.24"/><use href="#m7" x="387.99" y="238.61"/><use href="#m7" x="388.54" y="237.32"/><use href="#m7" x="389.08" y="236.37"/><use href="#m7" x="389.6" y="235.79"/><use href="#m7" x="390.1" y="235.58"/><use href="#m7" x="390.58" y="235.51"/><use href="#m7" x="391.05" y="235.46"/><use href="#m7" x="391.51" y="235.41"/><use href="#m7" x="392.38" y="235.35"/><use href="#m7" x="393.2" y="235.3"/><use href="#m7" x="393.99" y="235.27"/><use href="#m7" x="394.73" y="235.24"/><use href="#m7" x="395.44" y="235.21"/><use href="#m7" x="396.12" y="235.17"/><use href="#m7" x="396.77" y="235.12"/><use href="#m7" x="397.4" y="235.07"/><use href="#m7" x="397.99" y="235"/><use href="#m7" x="398.57" y="234.9"/><use href="#m7" x="399.13" y="234.77"/><use href="#m7" x="399.66" y="234.61"/><use href="#m7" x="400.18" y="234.42"/><use href="#m7" x="400.68" y="234.21"/><use href="#m7" x="401.17" y="233.99"/><use href="#m7" x="401.63" y="233.75"/><use href="#m7" x="402.09" y="233.51"/><use href="#m7" x="402.75" y="233.13"/><use href="#m7" x="403.38" y="232.75"/><use href="#m7" x="403.99" y="232.37"/><use href="#m7" x="404.57" y="231.99"/><use href="#m7" x="405.13" y="231.62"/><use href="#m7" x="405.68" y="231.27"/><use href="#m7" x="406.2" y="230.92"/><use href="#m7" x="406.71" y="230.59"/><use href="#m7" x="407.2" y="230.28"/><use href="#m7" x="407.67" y="229.98"/><use href="#m7" x="408.13" y="229.7"/><use href="#m7" x="408.72" y="229.35"/><use href="#m7" x="409.3" y="228.99"/><use href="#m7" x="409.85" y="228.64"/><use href="#m7" x="410.38" y="228.29"/><use href="#m7" x="410.89" y="227.95"/><use href="#m7" x="411.39" y="227.61"/><use href="#m7" x="411.87" y="227.28"/><use href="#m7" x="412.33" y="226.96"/><use href="#m7" x="412.79" y="226.66"/><use href="#m7" x="413.33" y="226.29"/><use href="#m7" x="413.86" y="225.93"/><use href="#m7" x="414.37" y="225.6"/><use href="#m7" x="414.87" y="225.28"/><use href="#m7" x="415.35" y="224.98"/><use href="#m7" x="415.81" y="224.69"/><use href="#m7" x="416.26" y="224.41"/><use href="#m7" x="416.78" y="224.08"/><use href="#m7" x="417.29" y="223.77"/><use href="#m7" x="417.78" y="223.46"/><use href="#m7" x="418.26" y="223.16"/><use href="#m7" x="418.72" y="222.88"/><use href="#m7" x="419.24" y="222.56"/><use href="#m7" x="419.74" y="222.25"/><use href="#m7" x="420.23" y="221.95"/><use href="#m7" x="420.7" y="221.66"/><use href="#m7" x="421.16" y="221.38"/><use href="#m7" x="421.66" y="221.08"/><use href="#m7" x="422.15" y="220.79"/><use href="#m7" x="422.63" y="220.5"/><use href="#m7" x="423.09" y="220.23"/><use href="#m7" x="423.59" y="219.94"/><use href="#m7" x="424.08" y="219.66"/><use href="#m7" x="424.55" y="219.4"/><use href="#m7" x="425.01" y="219.14"/><use href="#m7" x="425.5" y="218.87"/><use href="#m7" x="425.98" y="218.61"/><use href="#m7" x="426.44" y="218.36"/><use href="#m7" x="426.93" y="218.09"/><use href="#m7" x="427.41" y="217.85"/><use href="#m7" x="427.88" y="217.61"/><use href="#m7" x="428.36" y="217.36"/><use href="#m7" x="428.84" y="217.12"/><use href="#m7" x="429.3" y="216.89"/><use href="#m7" x="429.78" y="216.65"/><use href="#m7" x="430.25" y="216.43"/><use href="#m7" x="430.71" y="216.21"/><use href="#m7" x="431.18" y="215.98"/><use href="#m7" x="431.64" y="215.77"/><use href="#m7" x="432.12" y="215.54"/><use href="#m7" x="432.59" y="215.33"/><use href="#m7" x="433.04" y="215.12"/><use href="#m7" x="433.5" y="214.91"/><use href="#m7" x="433.96" y="214.7"/><use href="#m7" x="434.42" y="214.5"/><use href="#m7" x="434.87" y="214.29"/><use href="#m7" x="435.34" y="214.09"/><use href="#m7" x="435.79" y="213.89"/><use href="#m7" x="436.25" y="213.69"/><use href="#m7" x="436.73" y="213.49"/><use href="#m7" x="437.18" y="213.29"/><use href="#m7" x="437.65" y="213.09"/><use href="#m7" x="438.1" y="212.9"/><use href="#m7" x="438.56" y="212.7"/><use href="#m7" x="439.03" y="212.51"/><use href="#m7" x="439.48" y="212.32"/><use href="#m7" x="439.94" y="212.12"/><use href="#m7" x="440.4" y="211.93"/><use href="#m7" x="440.87" y="211.74"/><use href="#m7" x="441.33" y="211.54"/><use href="#m7" x="441.78" y="211.35"/><use href="#m7" x="442.24" y="211.16"/><use href="#m7" x="442.71" y="210.96"/><use href="#m7" x="443.17" y="210.77"/><use href="#m7" x="443.62" y="210.58"/><use href="#m7" x="444.07" y="210.39"/><use href="#m7" x="444.53" y="210.21"/><use href="#m7" x="444.98" y="210.02"/><use href="#m7" x="445.43" y="209.83"/><use href="#m7" x="445.89" y="209.65"/><use href="#m7" x="446.34" y="209.47"/><use href="#m7" x="446.79" y="209.29"/><use href="#m7" x="447.24" y="209.12"/><use href="#m7" x="447.7" y="208.94"/><use href="#m7" x="448.16" y="208.76"/><use href="#m7" x="448.61" y="208.6"/><use href="#m7" x="449.06" y="208.43"/><use href="#m7" x="449.52" y="208.27"/><use href="#m7" x="449.98" y="208.11"/><use href="#m7" x="450.43" y="207.95"/><use href="#m7" x="450.89" y="207.8"/><use href="#m7" x="451.34" y="207.65"/><use href="#m7" x="451.8" y="207.51"/><use href="#m7" x="452.25" y="207.37"/><use href="#m7" x="452.71" y="207.24"/><use href="#m7" x="453.16" y="207.11"/><use href="#m7" x="453.61" y="206.98"/><use href="#m7" x="454.06" y="206.85"/><use href="#m7" x="454.52" y="206.73"/><use href="#m7" x="454.98" y="206.6"/><use href="#m7" x="455.43" y="206.48"/><use href="#m7" x="455.88" y="206.36"/><use href="#m7" x="456.33" y="206.25"/><use href="#m7" x="456.78" y="206.13"/><use href="#m7" x="457.23" y="206.02"/><use href="#m7" x="457.69" y="205.91"/><use href="#m7" x="458.14" y="205.8"/><use href="#m7" x="458.59" y="205.69"/><use href="#m7" x="459.05" y="205.59"/><use href="#m7" x="459.5" y="205.49"/><use href="#m7" x="459.95" y="205.39"/><use href="#m7" x="460.4" y="205.29"/><use href="#m7" x="460.85" y="205.2"/><use href="#m7" x="461.31" y="205.11"/></g>
<g fill="#00ff00"><use href="#m8" x="337.66" y="285.79"/><use href="#m8" x="348.24" y="284.14"/><use href="#m8" x="354.44" y="281.59"/><use href="#m8" x="358.83" y="279.4"/><use href="#m8" x="362.24" y="277.68"/><use href="#m8" x="365.02" y="276.15"/><use href="#m8" x="367.37" y="274.46"/><use href="#m8" x="369.41" y="272.46"/><use href="#m8" x="371.21" y="270.32"/><use href="#m8" x="372.82" y="268.18"/><use href="#m8" x="374.28" y="265.98"/><use href="#m8" x="375.6" y="263.59"/><use href="#m8" x="376.83" y="261.2"/><use href="#m8" x="377.96" y="258.96"/><use href="#m8" x="379.01" y="256.97"/><use href="#m8" x="380" y="255.17"/><use href="#m8" x="380.92" y="253.45"/><use href="#m8" x="381.8" y="251.72"/><use href="#m8" x="382.62" y="249.93"/><use href="#m8" x="383.4" y="248.03"/><use href="#m8" x="384.15" y="245.8"/><use href="#m8" x="384.86" y="243.34"/><use href="#m8" x="385.54" y="240.87"/><use href="#m8" x="386.19" y="238.56"/><use href="#m8" x="386.81" y="236.55"/><use href="#m8" x="387.41" y="234.76"/><use href="#m8" x="387.99" y="232.87"/><use href="#m8" x="388.54" y="231.12"/><use href="#m8" x="389.08" y="229.71"/><use href="#m8" x="389.6" y="228.83"/><use href="#m8" x="390.1" y="228.6"/><use href="#m8" x="390.58" y="228.61"/><use href="#m8" x="391.05" y="228.63"/><use href="#m8" x="391.51" y="228.65"/><use href="#m8" x="392.38" y="228.72"/><use href="#m8" x="393.2" y="228.8"/><use href="#m8" x="393.99" y="228.88"/><use href="#m8" x="394.73" y="228.96"/><use href="#m8" x="395.44" y="229.04"/><use href="#m8" x="396.12" y="229.1"/><use href="#m8" x="396.77" y="229.15"/><use href="#m8" x="397.4" y="229.18"/><use href="#m8" x="397.99" y="229.2"/><use href="#m8" x="398.57" y="229.19"/><use href="#m8" x="399.13" y="229.15"/><use href="#m8" x="399.66" y="229.06"/><use href="#m8" x="400.18" y="228.94"/><use href="#m8" x="400.68" y="228.79"/><use href="#m8" x="401.17" y="228.63"/><use href="#m8" x="401.63" y="228.44"/><use href="#m8" x="402.09" y="228.24"/><use href="#m8" x="402.75" y="227.93"/><use href="#m8" x="403.38" y="227.6"/><use href="#m8" x="403.99" y="227.27"/><use href="#m8" x="404.57" y="226.94"/><use href="#m8" x="405.13" y="226.61"/><use href="#m8" x="405.68" y="226.29"/><use href="#m8" x="406.2" y="225.98"/><use href="#m8" x="406.71" y="225.68"/><use href="#m8" x="407.2" y="225.4"/><use href="#m8" x="407.67" y="225.14"/><use href="#m8" x="408.13" y="224.89"/><use href="#m8" x="408.72" y="224.58"/><use href="#m8" x="409.3" y="224.26"/><use href="#m8" x="409.85" y="223.94"/><use href="#m8" x="410.38" y="223.62"/><use href="#m8" x="410.89" y="223.3"/><use href="#m8" x="411.39" y="222.99"/><use href="#m8" x="411.87" y="222.68"/><use href="#m8" x="412.33" y="222.38"/><use href="#m8" x="412.79" y="222.09"/><use href="#m8" x="413.33" y="221.74"/><use href="#m8" x="413.86" y="221.4"/><use href="#m8" x="414.37" y="221.08"/><use href="#m8" x="414.87" y="220.78"/><use href="#m8" x="415.35" y="220.49"/><use href="#m8" x="415.81" y="220.21"/><use href="#m8" x="416.26" y="219.93"/><use href="#m8" x="416.78" y="219.61"/><use href="#m8" x="417.29" y="219.3"/><use href="#m8" x="417.78" y="218.99"/><use href="#m8" x="418.26" y="218.7"/><use href="#m8" x="418.72" y="218.41"/><use href="#m8" x="419.24" y="218.09"/><use href="#m8" x="419.74" y="217.78"/><use href="#m8" x="420.23" y="217.48"/><use href="#m8" x="420.7" y="217.19"/><use href="#m8" x="421.16" y="216.9"/><use href="#m8" x="421.66" y="216.6"/><use href="#m8" x="422.15" y="216.3"/><use href="#m8" x="422.63" y="216.01"/><use href="#m8" x="423.09" y="215.74"/><use href="#m8" x="423.59" y="215.44"/><use href="#m8" x="424.08" y="215.16"/><use href="#m8" x="424.55" y="214.89"/><use href="#m8" x="425.01" y="214.63"/><use href="#m8" x="425.5" y="214.36"/><use href="#m8" x="425.98" y="214.1"/><use href="#m8" x="426.44" y="213.85"/><use href="#m8" x="426.93" y="213.59"/><use href="#m8" x="427.41" y="213.34"/><use href="#m8" x="427.88" y="213.11"/><use href="#m8" x="428.36" y="212.87"/><use href="#m8" x="428.84" y="212.64"/><use href="#m8" x="429.3" y="212.41"/><use href="#m8" x="429.78" y="212.18"/><use href="#m8" x="430.25" y="211.96"/><use href="#m8" x="430.71" y="211.75"/><use href="#m8" x="431.18" y="211.53"/><use href="#m8" x="431.64" y="211.32"/><use href="#m8" x="432.12" y="211.11"/><use href="#m8" x="432.59" y="210.9"/><use href="#m8" x="433.04" y="210.7"/><use href="#m8" x="433.5" y="210.49"/><use href="#m8" x="433.96" y="210.3"/><use href="#m8" x="434.42" y="210.1"/><use href="#m8" x="434.87" y="209.9"/><use href="#m8" x="435.34" y="209.71"/><use href="#m8" x="435.79" y="209.52"/><use href="#m8" x="436.25" y="209.33"/><use href="#m8" x="436.73" y="209.13"/><use href="#m8" x="437.18" y="208.94"/><use href="#m8" x="437.65" y="208.75"/><use href="#m8" x="438.1" y="208.57"/><use href="#m8" x="438.56" y="208.38"/><use href="#m8" x="439.03" y="208.19"/><use href="#m8" x="439.48" y="208.01"/><use href="#m8" x="439.94" y="207.82"/><use href="#m8" x="440.4" y="207.64"/><use href="#m8" x="440.87" y="207.45"/><use href="#m8" x="441.33" y="207.27"/><use href="#m8" x="441.78" y="207.08"/><use href="#m8" x="442.24" y="206.9"/><use href="#m8" x="442.71" y="206.71"/><use href="#m8" x="443.17" y="206.52"/><use href="#m8" x="443.62" y="206.34"/><use href="#m8" x="444.07" y="206.16"/><use href="#m8" x="444.53" y="205.98"/><use href="#m8" x="444.98" y="205.8"/><use href="#m8" x="445.43" y="205.63"/><use href="#m8" x="445.89" y="205.45"/><use href="#m8" x="446.34" y="205.28"/><use href="#m8" x="446.79" y="205.11"/><use href="#m8" x="447.24" y="204.94"/><use href="#m8" x="447.7" y="204.77"/><use href="#m8" x="448.16" y="204.6"/><use href="#m8" x="448.61" y="204.44"/><use href="#m8" x="449.06" y="204.28"/><use href="#m8" x="449.52" y="204.13"/><use href="#m8" x="449.98" y="203.97"/><use href="#m8" x="450.43" y="203.83"/><use href="#m8" x="450.89" y="203.68"/><use href="#m8" x="451.34" y="203.54"/><use href="#m8" x="451.8" y="203.4"/><use href="#m8" x="452.25" y="203.27"/><use href="#m8" x="452.71" y="203.14"/><use href="#m8" x="453.16" y="203.02"/><use href="#m8" x="453.61" y="202.89"/><use href="#m8" x="454.06" y="202.77"/><use href="#m8" x="454.52" y="202.65"/><use href="#m8" x="454.98" y="202.53"/><use href="#m8" x="455.43" y="202.42"/><use href="#m8" x="455.88" y="202.3"/><use href="#m8" x="456.33" y="202.19"/><use href="#m8" x="456.78" y="202.08"/><use href="#m8" x="457.23" y="201.97"/><use href="#m8" x="457.69" y="201.86"/><use href="#m8" x="458.14" y="201.76"/><use href="#m8" x="458.59" y="201.66"/><use href="#m8" x="459.05" y="201.56"/><use href="#m8" x="459.5" y="201.46"/><use href="#m8" x="459.95" y="201.37"/><use href="#m8" x="460.4" y="201.28"/><use href="#m8" x="460.85" y="201.19"/><use href="#m8" x="461.31" y="201.1"/></g>
<g fill="#ff00ff"><use href="#m9" x="337.66" y="307"/><use href="#m9" x="348.24" y="306.22"/><use href="#m9" x="354.44" y="303.78"/><use href="#m9" x="358.83" y="301.68"/><use href="#m9" x="362.24" y="300.24"/><use href="#m9" x="365.02" y="298.74"/><use href="#m9" x="367.37" y="296.19"/><use href="#m9" x="369.41" y="292.91"/><use href="#m9" x="371.21" y="288.54"/><use href="#m9" x="372.82" y="283.87"/><use href="#m9" x="374.28" y="279.72"/><use href="#m9" x="375.6" y="275.78"/><use href="#m9" x="376.83" y="272.13"/><use href="#m9" x="377.96" y="268.84"/><use href="#m9" x="379.01" y="265.71"/><use href="#m9" x="380" y="262.51"/><use href="#m9" x="380.92" y="258.77"/><use href="#m9" x="381.8" y="254.74"/><use href="#m9" x="382.62" y="251.14"/><use href="#m9" x="383.4" y="248.49"/><use href="#m9" x="384.15" y="246.78"/><use href="#m9" x="384.86" y="245.33"/><use href="#m9" x="385.54" y="244.14"/><use href="#m9" x="386.19" y="243.26"/><use href="#m9" x="386.81" y="242.7"/><use href="#m9" x="387.41" y="242.42"/><use href="#m9" x="387.99" y="242.19"/><use href="#m9" x="388.54" y="241.99"/><use href="#m9" x="389.08" y="241.83"/><use href="#m9" x="389.6" y="241.68"/><use href="#m9" x="390.1" y="241.56"/><use href="#m9" x="390.58" y="241.45"/><use href="#m9" x="391.05" y="241.36"/><use href="#m9" x="391.51" y="241.28"/><use href="#m9" x="392.38" y="241.13"/><use href="#m9" x="393.2" y="241.01"/><use href="#m9" x="393.99" y="240.9"/><use href="#m9" x="394.73" y="240.79"/><use href="#m9" x="395.44" y="240.67"/><use href="#m9" x="396.12" y="240.55"/><use href="#m9" x="396.77" y="240.41"/><use href="#m9" x="397.4" y="240.26"/><use href="#m9" x="397.99" y="240.09"/><use href="#m9" x="398.57" y="239.91"/><use href="#m9" x="399.13" y="239.72"/><use href="#m9" x="399.66" y="239.53"/><use href="#m9" x="400.18" y="239.32"/><use href="#m9" x="400.68" y="239.12"/><use href="#m9" x="401.17" y="238.91"/><use href="#m9" x="401.63" y="238.7"/><use href="#m9" x="402.09" y="238.49"/><use href="#m9" x="402.75" y="238.17"/><use href="#m9" x="403.38" y="237.85"/><use href="#m9" x="403.99" y="237.53"/><use href="#m9" x="404.57" y="237.22"/><use href="#m9" x="405.13" y="236.9"/><use href="#m9" x="405.68" y="236.59"/><use href="#m9" x="406.2" y="236.29"/><use href="#m9" x="406.71" y="235.98"/><use href="#m9" x="407.2" y="235.69"/><use href="#m9" x="407.67" y="235.39"/><use href="#m9" x="408.13" y="235.11"/><use href="#m9" x="408.72" y="234.72"/><use href="#m9" x="409.3" y="234.3"/><use href="#m9" x="409.85" y="233.87"/><use href="#m9" x="410.38" y="233.43"/><use href="#m9" x="410.89" y="232.99"/><use href="#m9" x="411.39" y="232.55"/><use href="#m9" x="411.87" y="232.11"/><use href="#m9" x="412.33" y="231.7"/><use href="#m9" x="412.79" y="231.29"/><use href="#m9" x="413.33" y="230.82"/><use href="#m9" x="413.86" y="230.37"/><use href="#m9" x="414.37" y="229.96"/><use href="#m9" x="414.87" y="229.59"/><use href="#m9" x="415.35" y="229.26"/><use href="#m9" x="415.81" y="228.94"/><use href="#m9" x="416.26" y="228.63"/><use href="#m9" x="416.78" y="228.28"/><use href="#m9" x="417.29" y="227.94"/><use href="#m9" x="417.78" y="227.62"/><use href="#m9" x="418.26" y="227.32"/><use href="#m9" x="418.72" y="227.03"/><use href="#m9" x="419.24" y="226.7"/><use href="#m9" x="419.74" y="226.39"/><use href="#m9" x="420.23" y="226.09"/><use href="#m9" x="420.7" y="225.81"/><use href="#m9" x="421.16" y="225.54"/><use href="#m9" x="421.66" y="225.24"/><use href="#m9" x="422.15" y="224.95"/><use href="#m9" x="422.63" y="224.68"/><use href="#m9" x="423.09" y="224.42"/><use href="#m9" x="423.59" y="224.13"/><use href="#m9" x="424.08" y="223.86"/><use href="#m9" x="424.55" y="223.6"/><use href="#m9" x="425.01" y="223.35"/><use href="#m9" x="425.5" y="223.08"/><use href="#m9" x="425.98" y="222.82"/><use href="#m9" x="426.44" y="222.57"/><use href="#m9" x="426.93" y="222.3"/><use href="#m9" x="427.41" y="222.05"/><use href="#m9" x="427.88" y="221.8"/><use href="#m9" x="428.36" y="221.54"/><use href="#m9" x="428.84" y="221.29"/><use href="#m9" x="429.3" y="221.06"/><use href="#m9" x="429.78" y="220.81"/><use href="#m9" x="430.25" y="220.57"/><use href="#m9" x="430.71" y="220.34"/><use href="#m9" x="431.18" y="220.1"/><use href="#m9" x="431.64" y="219.87"/><use href="#m9" x="432.12" y="219.64"/><use href="#m9" x="432.59" y="219.41"/><use href="#m9" x="433.04" y="219.19"/><use href="#m9" x="433.5" y="218.97"/><use href="#m9" x="433.96" y="218.75"/><use href="#m9" x="434.42" y="218.53"/><use href="#m9" x="434.87" y="218.32"/><use href="#m9" x="435.34" y="218.1"/><use href="#m9" x="435.79" y="217.89"/><use href="#m9" x="436.25" y="217.68"/><use href="#m9" x="436.73" y="217.46"/><use href="#m9" x="437.18" y="217.25"/><use href="#m9" x="437.65" y="217.04"/><use href="#m9" x="438.1" y="216.84"/><use href="#m9" x="438.56" y="216.63"/><use href="#m9" x="439.03" y="216.43"/><use href="#m9" x="439.48" y="216.23"/><use href="#m9" x="439.94" y="216.03"/><use href="#m9" x="440.4" y="215.82"/><use href="#m9" x="440.87" y="215.62"/><use href="#m9" x="441.33" y="215.42"/><use href="#m9" x="441.78" y="215.22"/><use href="#m9" x="442.24" y="215.02"/><use href="#m9" x="442.71" y="214.82"/><use href="#m9" x="443.17" y="214.62"/><use href="#m9" x="443.62" y="214.42"/><use href="#m9" x="444.07" y="214.23"/><use href="#m9" x="444.53" y="214.04"/><use href="#m9" x="444.98" y="213.85"/><use href="#m9" x="445.43" y="213.65"/><use href="#m9" x="445.89" y="213.47"/><use href="#m9" x="446.34" y="213.28"/><use href="#m9" x="446.79" y="213.09"/><use href="#m9" x="447.24" y="212.91"/><use href="#m9" x="447.7" y="212.73"/><use href="#m9" x="448.16" y="212.55"/><use href="#m9" x="448.61" y="212.37"/><use href="#m9" x="449.06" y="212.2"/><use href="#m9" x="449.52" y="212.03"/><use href="#m9" x="449.98" y="211.86"/><use href="#m9" x="450.43" y="211.7"/><use href="#m9" x="450.89" y="211.54"/><use href="#m9" x="451.34" y="211.38"/><use href="#m9" x="451.8" y="211.23"/><use href="#m9" x="452.25" y="211.08"/><use href="#m9" x="452.71" y="210.93"/><use href="#m9" x="453.16" y="210.79"/><use href="#m9" x="453.61" y="210.65"/><use href="#m9" x="454.06" y="210.51"/><use href="#m9" x="454.52" y="210.37"/><use href="#m9" x="454.98" y="210.24"/><use href="#m9" x="455.43" y="210.11"/><use href="#m9" x="455.88" y="209.97"/><use href="#m9" x="456.33" y="209.85"/><use href="#m9" x="456.78" y="209.72"/><use href="#m9" x="457.23" y="209.59"/><use href="#m9" x="457.69" y="209.47"/><use href="#m9" x="458.14" y="209.35"/><use href="#m9" x="458.59" y="209.23"/><use href="#m9" x="459.05" y="209.11"/><use href="#m9" x="459.5" y="209"/><use href="#m9" x="459.95" y="208.89"/><use href="#m9" x="460.4" y="208.78"/><use href="#m9" x="460.85" y="208.67"/><use href="#m9" x="461.31" y="208.57"/></g>
<g fill="#fff" stroke="#ff00ff" stroke-width="0.75"><use href="#m10" x="202.4" y="297.9"/></g>
<g fill="#fff" stroke="#00ff00" stroke-width="0.75"><use href="#m11" x="202.4" y="303.7"/></g>
<g fill="#fff" stroke="#0000ff" stroke-width="0.75"><use href="#m12" x="202.4" y="309.5"/></g>
<g fill="#fff" stroke="#ff0000" stroke-width="0.75"><use href="#m13" x="236.3" y="297.7"/></g>
<g fill="#fff" stroke="#000000" stroke-width="0.75"><use href="#m14" x="236.3" y="303.7"/></g>
<g fill="#ff00ff"><use href="#m9" x="423.6" y="297.9"/></g>
<g fill="#00ff00"><use href="#m8" x="423.6" y="303.7"/></g>
<g fill="#0000ff"><use href="#m7" x="423.6" y="309.5"/></g>
<g fill="#ff0000"><use href="#m6" x="457.5" y="297.7"/></g>
<g fill="#000000"><use href="#m5" x="457.5" y="303.7"/></g>
<defs><g id="m0"><circle cx="0" cy="0" r="2"/></g><g id="m1"><path d="M0 2.1 L2.2 -1.7 L-2.2 -1.7 Z"/></g><g id="m2"><path d="M0 -2.4 L2.4 0 L0 2.4 L-2.4 0 Z"/></g><g id="m3"><rect x="-1.8" y="-1.8" width="3.6" height="3.6"/></g><g id="m4"><path d="M0 -2.1 L2.2 1.7 L-2.2 1.7 Z"/></g><g id="m5"><circle cx="0" cy="0" r="2.3"/></g><g id="m6"><path d="M0 2.42 L2.53 -1.95 L-2.53 -1.95 Z"/></g><g id="m7"><path d="M0 -2.76 L2.76 0 L0 2.76 L-2.76 0 Z"/></g><g id="m8"><rect x="-2.07" y="-2.07" width="4.14" height="4.14"/></g><g id="m9"><path d="M0 -2.42 L2.53 1.95 L-2.53 1.95 Z"/></g><g id="m10"><path d="M0 -2.21 L2.31 1.78 L-2.31 1.78 Z"/></g><g id="m11"><rect x="-1.89" y="-1.89" width="3.78" height="3.78"/></g><g id="m12"><path d="M0 -2.52 L2.52 0 L0 2.52 L-2.52 0 Z"/></g><g id="m13"><path d="M0 2.21 L2.31 -1.78 L-2.31 -1.78 Z"/></g><g id="m14"><circle cx="0" cy="0" r="2.1"/></g></defs>
<text x="233.9" y="24.6" font-size="11" text-anchor="start" font-weight="bold" fill="#000" font-family="Liberation Sans, Arial, sans-serif" >Gelatin</text>
<text x="233.2" y="37.4" font-size="11" text-anchor="start" font-weight="bold" fill="#000" font-family="Liberation Sans, Arial, sans-serif" >Sugars</text>
<text x="327.8" y="22.8" font-size="11" text-anchor="start" font-weight="bold" fill="#000" font-family="Liberation Sans, Arial, sans-serif" >H<tspan font-size="7.2" dy="2.4">2</tspan><tspan dy="-2.4">O</tspan></text>
<text x="320.5" y="37.4" font-size="11" text-anchor="start" font-weight="bold" fill="#000" font-family="Liberation Sans, Arial, sans-serif" >Polyols</text>
<text x="89.7" y="169" font-size="12.5" text-anchor="middle" font-weight="bold" fill="#000" font-family="Liberation Sans, Arial, sans-serif" >Sol. 2</text>
<text x="275" y="169" font-size="12.5" text-anchor="middle" font-weight="bold" fill="#000" font-family="Liberation Sans, Arial, sans-serif" >Sol. 3 - 4</text>
<text x="461.3" y="169" font-size="12.5" text-anchor="middle" font-weight="bold" fill="#000" font-family="Liberation Sans, Arial, sans-serif" >Sol. 5</text>
<text x="71" y="197" font-size="8" text-anchor="start" font-weight="normal" fill="#111" font-family="Liberation Sans, Arial, sans-serif" >10<tspan font-size="5.6" dy="-2.9">4</tspan></text>
<text x="71" y="217.95" font-size="8" text-anchor="start" font-weight="normal" fill="#111" font-family="Liberation Sans, Arial, sans-serif" >10<tspan font-size="5.6" dy="-2.9">3</tspan></text>
<text x="71" y="238.9" font-size="8" text-anchor="start" font-weight="normal" fill="#111" font-family="Liberation Sans, Arial, sans-serif" >10<tspan font-size="5.6" dy="-2.9">2</tspan></text>
<text x="71" y="259.85" font-size="8" text-anchor="start" font-weight="normal" fill="#111" font-family="Liberation Sans, Arial, sans-serif" >10<tspan font-size="5.6" dy="-2.9">1</tspan></text>
<text x="71" y="280.8" font-size="8" text-anchor="start" font-weight="normal" fill="#111" font-family="Liberation Sans, Arial, sans-serif" >10<tspan font-size="5.6" dy="-2.9">0</tspan></text>
<text x="71" y="301.75" font-size="8" text-anchor="start" font-weight="normal" fill="#111" font-family="Liberation Sans, Arial, sans-serif" >10<tspan font-size="5.6" dy="-2.9">-1</tspan></text>
<text x="71" y="322.7" font-size="8" text-anchor="start" font-weight="normal" fill="#111" font-family="Liberation Sans, Arial, sans-serif" >10<tspan font-size="5.6" dy="-2.9">-2</tspan></text>
<text x="88.9" y="331" font-size="8" text-anchor="middle" font-weight="normal" fill="#111" font-family="Liberation Sans, Arial, sans-serif" >10<tspan font-size="5.6" dy="-2.9">0</tspan></text>
<text x="123.98" y="331" font-size="8" text-anchor="middle" font-weight="normal" fill="#111" font-family="Liberation Sans, Arial, sans-serif" >10<tspan font-size="5.6" dy="-2.9">1</tspan></text>
<text x="159.06" y="331" font-size="8" text-anchor="middle" font-weight="normal" fill="#111" font-family="Liberation Sans, Arial, sans-serif" >10<tspan font-size="5.6" dy="-2.9">2</tspan></text>
<text x="194.14" y="331" font-size="8" text-anchor="middle" font-weight="normal" fill="#111" font-family="Liberation Sans, Arial, sans-serif" >10<tspan font-size="5.6" dy="-2.9">3</tspan></text>
<text x="229.22" y="331" font-size="8" text-anchor="middle" font-weight="normal" fill="#111" font-family="Liberation Sans, Arial, sans-serif" >10<tspan font-size="5.6" dy="-2.9">4</tspan></text>
<text x="264.3" y="331" font-size="8" text-anchor="middle" font-weight="normal" fill="#111" font-family="Liberation Sans, Arial, sans-serif" >10<tspan font-size="5.6" dy="-2.9">5</tspan></text>
<text x="292.3" y="197" font-size="8" text-anchor="start" font-weight="normal" fill="#111" font-family="Liberation Sans, Arial, sans-serif" >10<tspan font-size="5.6" dy="-2.9">2</tspan></text>
<text x="292.3" y="238.9" font-size="8" text-anchor="start" font-weight="normal" fill="#111" font-family="Liberation Sans, Arial, sans-serif" >10<tspan font-size="5.6" dy="-2.9">1</tspan></text>
<text x="292.3" y="280.8" font-size="8" text-anchor="start" font-weight="normal" fill="#111" font-family="Liberation Sans, Arial, sans-serif" >10<tspan font-size="5.6" dy="-2.9">0</tspan></text>
<text x="292.3" y="322.7" font-size="8" text-anchor="start" font-weight="normal" fill="#111" font-family="Liberation Sans, Arial, sans-serif" >10<tspan font-size="5.6" dy="-2.9">-1</tspan></text>
<text x="310" y="331" font-size="8" text-anchor="middle" font-weight="normal" fill="#111" font-family="Liberation Sans, Arial, sans-serif" >10<tspan font-size="5.6" dy="-2.9">0</tspan></text>
<text x="345.16" y="331" font-size="8" text-anchor="middle" font-weight="normal" fill="#111" font-family="Liberation Sans, Arial, sans-serif" >10<tspan font-size="5.6" dy="-2.9">1</tspan></text>
<text x="380.32" y="331" font-size="8" text-anchor="middle" font-weight="normal" fill="#111" font-family="Liberation Sans, Arial, sans-serif" >10<tspan font-size="5.6" dy="-2.9">2</tspan></text>
<text x="415.48" y="331" font-size="8" text-anchor="middle" font-weight="normal" fill="#111" font-family="Liberation Sans, Arial, sans-serif" >10<tspan font-size="5.6" dy="-2.9">3</tspan></text>
<text x="450.64" y="331" font-size="8" text-anchor="middle" font-weight="normal" fill="#111" font-family="Liberation Sans, Arial, sans-serif" >10<tspan font-size="5.6" dy="-2.9">4</tspan></text>
<text x="485.8" y="331" font-size="8" text-anchor="middle" font-weight="normal" fill="#111" font-family="Liberation Sans, Arial, sans-serif" >10<tspan font-size="5.6" dy="-2.9">5</tspan></text>
<text x="176.2" y="346.2" font-size="9.9" text-anchor="middle" font-weight="normal" fill="#111" font-family="Liberation Sans, Arial, sans-serif" >t [s]</text>
<text x="397.4" y="346.2" font-size="9.9" text-anchor="middle" font-weight="normal" fill="#111" font-family="Liberation Sans, Arial, sans-serif" >t [s]</text>
<text x="0" y="0" font-size="10.2" text-anchor="middle" font-weight="normal" fill="#111" font-family="Liberation Sans, Arial, sans-serif" transform="translate(65 256.8) rotate(-90)">G' [Pa]</text>
<text x="0" y="0" font-size="10.2" text-anchor="middle" font-weight="normal" fill="#111" font-family="Liberation Sans, Arial, sans-serif" transform="translate(286 256.8) rotate(-90)">G" [Pa]</text>
<text x="211.1" y="299.6" font-size="5" text-anchor="start" font-weight="normal" fill="#444" font-family="Liberation Sans, Arial, sans-serif" >Sol. 2</text>
<text x="211.1" y="305.4" font-size="5" text-anchor="start" font-weight="normal" fill="#444" font-family="Liberation Sans, Arial, sans-serif" >Sol. 3S</text>
<text x="211.1" y="311.2" font-size="5" text-anchor="start" font-weight="normal" fill="#444" font-family="Liberation Sans, Arial, sans-serif" >Sol. 3D</text>
<text x="244.5" y="299.6" font-size="5" text-anchor="start" font-weight="normal" fill="#444" font-family="Liberation Sans, Arial, sans-serif" >Sol. 4</text>
<text x="244.5" y="305.4" font-size="5" text-anchor="start" font-weight="normal" fill="#444" font-family="Liberation Sans, Arial, sans-serif" >Sol. 5</text>
<text x="432.3" y="299.6" font-size="5" text-anchor="start" font-weight="normal" fill="#444" font-family="Liberation Sans, Arial, sans-serif" >Sol. 2</text>
<text x="432.3" y="305.4" font-size="5" text-anchor="start" font-weight="normal" fill="#444" font-family="Liberation Sans, Arial, sans-serif" >Sol. 3S</text>
<text x="432.3" y="311.2" font-size="5" text-anchor="start" font-weight="normal" fill="#444" font-family="Liberation Sans, Arial, sans-serif" >Sol. 3D</text>
<text x="465.7" y="299.6" font-size="5" text-anchor="start" font-weight="normal" fill="#444" font-family="Liberation Sans, Arial, sans-serif" >Sol. 4</text>
<text x="465.7" y="305.4" font-size="5" text-anchor="start" font-weight="normal" fill="#444" font-family="Liberation Sans, Arial, sans-serif" >Sol. 5</text>
<rect x="0.75" y="0.6" width="548.4" height="358.7" fill="none" stroke="#1f4291" stroke-width="1.6"/>
</svg>
</body></html>
